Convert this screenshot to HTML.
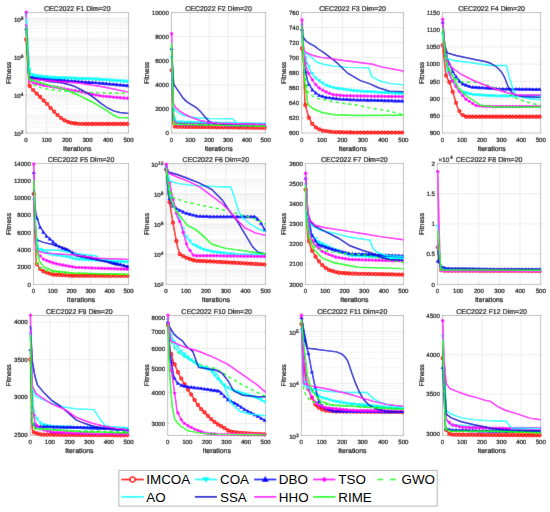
<!DOCTYPE html><html><head><meta charset="utf-8"><style>html,body{margin:0;padding:0;background:#fff;}svg{display:block;text-rendering:geometricPrecision;} .t{stroke:#000;stroke-width:0.22px;}</style></head><body><svg width="550" height="512" viewBox="0 0 550 512" font-family='"Liberation Sans", sans-serif'>
<defs><filter id="bl" x="0" y="0" width="550" height="512" filterUnits="userSpaceOnUse"><feConvolveMatrix order="3" kernelMatrix="0.0072 0.0847 0.0072 0.0847 1 0.0847 0.0072 0.0847 0.0072" edgeMode="duplicate" preserveAlpha="true"/></filter></defs><g filter="url(#bl)">
<rect width="550" height="512" fill="#fff"/>
<path d="M26 127.25H128.5M26 123.89H128.5M26 121.5H128.5M26 119.65H128.5M26 118.14H128.5M26 116.86H128.5M26 115.75H128.5M26 114.78H128.5M26 108.15H128.5M26 104.79H128.5M26 102.41H128.5M26 100.56H128.5M26 99.04H128.5M26 97.76H128.5M26 96.66H128.5M26 95.68H128.5M26 89.06H128.5M26 85.7H128.5M26 83.31H128.5M26 81.46H128.5M26 79.95H128.5M26 78.67H128.5M26 77.56H128.5M26 76.58H128.5M26 69.96H128.5M26 66.6H128.5M26 64.21H128.5M26 62.36H128.5M26 60.85H128.5M26 59.57H128.5M26 58.46H128.5M26 57.49H128.5M26 50.86H128.5M26 47.5H128.5M26 45.12H128.5M26 43.27H128.5M26 41.75H128.5M26 40.47H128.5M26 39.37H128.5M26 38.39H128.5M26 31.77H128.5M26 28.41H128.5M26 26.02H128.5M26 24.17H128.5M26 22.66H128.5M26 21.38H128.5M26 20.27H128.5M26 19.29H128.5" stroke="#efefef" stroke-width="0.6" fill="none"/>
<path d="M46.5 12.5V133M67 12.5V133M87.5 12.5V133M108 12.5V133M26 94.81H128.5M26 56.61H128.5M26 18.42H128.5" stroke="#e3e3e3" stroke-width="0.6" fill="none"/>
<text class="t" x="77.25" y="11.2" font-size="7.0" text-anchor="middle" fill="#000">CEC2022 F1 Dim=20</text>
<path d="M26 133v-1M26 12.5v1M46.5 133v-1M46.5 12.5v1M67 133v-1M67 12.5v1M87.5 133v-1M87.5 12.5v1M108 133v-1M108 12.5v1M128.5 133v-1M128.5 12.5v1M26 133h1M128.5 133h-1M26 94.81h1M128.5 94.81h-1M26 56.61h1M128.5 56.61h-1M26 18.42h1M128.5 18.42h-1" stroke="#a6a6a6" stroke-width="0.6" fill="none"/>
<rect x="26" y="12.5" width="102.5" height="120.5" fill="none" stroke="#a6a6a6" stroke-width="0.7"/>
<text class="t" x="26" y="141.6" font-size="6.1" text-anchor="middle" fill="#000">0</text>
<text class="t" x="46.5" y="141.6" font-size="6.1" text-anchor="middle" fill="#000">100</text>
<text class="t" x="67" y="141.6" font-size="6.1" text-anchor="middle" fill="#000">200</text>
<text class="t" x="87.5" y="141.6" font-size="6.1" text-anchor="middle" fill="#000">300</text>
<text class="t" x="108" y="141.6" font-size="6.1" text-anchor="middle" fill="#000">400</text>
<text class="t" x="128.5" y="141.6" font-size="6.1" text-anchor="middle" fill="#000">500</text>
<text class="t" x="20.82" y="134.2" font-size="5.0" text-anchor="start" fill="#000">2</text>
<text class="t" x="20.72" y="136.1" font-size="6.1" text-anchor="end" fill="#000">10</text>
<text class="t" x="20.82" y="96.01" font-size="5.0" text-anchor="start" fill="#000">4</text>
<text class="t" x="20.72" y="97.91" font-size="6.1" text-anchor="end" fill="#000">10</text>
<text class="t" x="20.82" y="57.81" font-size="5.0" text-anchor="start" fill="#000">6</text>
<text class="t" x="20.72" y="59.71" font-size="6.1" text-anchor="end" fill="#000">10</text>
<text class="t" x="20.82" y="19.62" font-size="5.0" text-anchor="start" fill="#000">8</text>
<text class="t" x="20.72" y="21.52" font-size="6.1" text-anchor="end" fill="#000">10</text>
<text class="t" x="77.25" y="150.5" font-size="6.9" text-anchor="middle" fill="#000">Iterations</text>
<clipPath id="cF1"><rect x="23" y="9.5" width="108.5" height="126.5"/></clipPath>
<g clip-path="url(#cF1)">
<path d="M26.2 39.3 28.2 70 29 84 29.6 85.9 32.75 89.6 36.5 93.4 40.25 97.1 44 100.9 47.75 104.6 50.9 108.4 54.6 112.1 57.75 115.25 61.5 118.4 65.25 120.9 70.25 122.75 76.5 123.75 84 124 128.5 124" stroke="#ff0000" stroke-width="1.45" fill="none"/>
<circle cx="26.2" cy="39.38" r="1.5" stroke="#ff0000" stroke-width="1.3" fill="#fff" fill-opacity="0.3"/>
<circle cx="29.69" cy="86.01" r="1.5" stroke="#ff0000" stroke-width="1.3" fill="#fff" fill-opacity="0.3"/>
<circle cx="33.17" cy="90.03" r="1.5" stroke="#ff0000" stroke-width="1.3" fill="#fff" fill-opacity="0.3"/>
<circle cx="36.66" cy="93.56" r="1.5" stroke="#ff0000" stroke-width="1.3" fill="#fff" fill-opacity="0.3"/>
<circle cx="40.15" cy="97" r="1.5" stroke="#ff0000" stroke-width="1.3" fill="#fff" fill-opacity="0.3"/>
<circle cx="43.63" cy="100.53" r="1.5" stroke="#ff0000" stroke-width="1.3" fill="#fff" fill-opacity="0.3"/>
<circle cx="47.11" cy="103.97" r="1.5" stroke="#ff0000" stroke-width="1.3" fill="#fff" fill-opacity="0.3"/>
<circle cx="50.6" cy="108.04" r="1.5" stroke="#ff0000" stroke-width="1.3" fill="#fff" fill-opacity="0.3"/>
<circle cx="54.09" cy="111.58" r="1.5" stroke="#ff0000" stroke-width="1.3" fill="#fff" fill-opacity="0.3"/>
<circle cx="57.57" cy="115.07" r="1.5" stroke="#ff0000" stroke-width="1.3" fill="#fff" fill-opacity="0.3"/>
<circle cx="61.05" cy="118.03" r="1.5" stroke="#ff0000" stroke-width="1.3" fill="#fff" fill-opacity="0.3"/>
<circle cx="64.54" cy="120.43" r="1.5" stroke="#ff0000" stroke-width="1.3" fill="#fff" fill-opacity="0.3"/>
<circle cx="68.03" cy="121.93" r="1.5" stroke="#ff0000" stroke-width="1.3" fill="#fff" fill-opacity="0.3"/>
<circle cx="71.51" cy="122.95" r="1.5" stroke="#ff0000" stroke-width="1.3" fill="#fff" fill-opacity="0.3"/>
<circle cx="75" cy="123.51" r="1.5" stroke="#ff0000" stroke-width="1.3" fill="#fff" fill-opacity="0.3"/>
<circle cx="78.48" cy="123.82" r="1.5" stroke="#ff0000" stroke-width="1.3" fill="#fff" fill-opacity="0.3"/>
<circle cx="81.97" cy="123.93" r="1.5" stroke="#ff0000" stroke-width="1.3" fill="#fff" fill-opacity="0.3"/>
<circle cx="85.45" cy="124" r="1.5" stroke="#ff0000" stroke-width="1.3" fill="#fff" fill-opacity="0.3"/>
<circle cx="88.94" cy="124" r="1.5" stroke="#ff0000" stroke-width="1.3" fill="#fff" fill-opacity="0.3"/>
<circle cx="92.42" cy="124" r="1.5" stroke="#ff0000" stroke-width="1.3" fill="#fff" fill-opacity="0.3"/>
<circle cx="95.91" cy="124" r="1.5" stroke="#ff0000" stroke-width="1.3" fill="#fff" fill-opacity="0.3"/>
<circle cx="99.39" cy="124" r="1.5" stroke="#ff0000" stroke-width="1.3" fill="#fff" fill-opacity="0.3"/>
<circle cx="102.88" cy="124" r="1.5" stroke="#ff0000" stroke-width="1.3" fill="#fff" fill-opacity="0.3"/>
<circle cx="106.36" cy="124" r="1.5" stroke="#ff0000" stroke-width="1.3" fill="#fff" fill-opacity="0.3"/>
<circle cx="109.84" cy="124" r="1.5" stroke="#ff0000" stroke-width="1.3" fill="#fff" fill-opacity="0.3"/>
<circle cx="113.33" cy="124" r="1.5" stroke="#ff0000" stroke-width="1.3" fill="#fff" fill-opacity="0.3"/>
<circle cx="116.81" cy="124" r="1.5" stroke="#ff0000" stroke-width="1.3" fill="#fff" fill-opacity="0.3"/>
<circle cx="120.3" cy="124" r="1.5" stroke="#ff0000" stroke-width="1.3" fill="#fff" fill-opacity="0.3"/>
<circle cx="123.78" cy="124" r="1.5" stroke="#ff0000" stroke-width="1.3" fill="#fff" fill-opacity="0.3"/>
<circle cx="127.27" cy="124" r="1.5" stroke="#ff0000" stroke-width="1.3" fill="#fff" fill-opacity="0.3"/>
<path d="M26.2 15 28.5 55 29.5 69 30.9 74 34 75.6 49 77.4 76 78.6 101 79.6 128.5 81.6" stroke="#00ffff" stroke-width="1.45" fill="none"/>
<path d="M24.1 13.29h4.2l-2.1 3.7zM27.59 67.88h4.2l-2.1 3.7zM31.07 73.37h4.2l-2.1 3.7zM34.56 74.12h4.2l-2.1 3.7zM38.05 74.54h4.2l-2.1 3.7zM41.53 74.96h4.2l-2.1 3.7zM45.01 75.37h4.2l-2.1 3.7zM48.5 75.67h4.2l-2.1 3.7zM51.98 75.83h4.2l-2.1 3.7zM55.47 75.98h4.2l-2.1 3.7zM58.95 76.14h4.2l-2.1 3.7zM62.44 76.29h4.2l-2.1 3.7zM65.93 76.45h4.2l-2.1 3.7zM69.41 76.6h4.2l-2.1 3.7zM72.9 76.76h4.2l-2.1 3.7zM76.38 76.9h4.2l-2.1 3.7zM79.87 77.04h4.2l-2.1 3.7zM83.35 77.18h4.2l-2.1 3.7zM86.84 77.32h4.2l-2.1 3.7zM90.32 77.46h4.2l-2.1 3.7zM93.81 77.6h4.2l-2.1 3.7zM97.29 77.74h4.2l-2.1 3.7zM100.78 77.94h4.2l-2.1 3.7zM104.26 78.19h4.2l-2.1 3.7zM107.75 78.44h4.2l-2.1 3.7zM111.23 78.7h4.2l-2.1 3.7zM114.72 78.95h4.2l-2.1 3.7zM118.2 79.2h4.2l-2.1 3.7zM121.69 79.46h4.2l-2.1 3.7zM125.17 79.71h4.2l-2.1 3.7z" fill="#00ffff"/>
<path d="M26.2 28.2 28.4 72 29 76.5 36.5 77.8 61.5 80 76 81.2 101 82.9 128.5 85.5" stroke="#0000ff" stroke-width="1.45" fill="none"/>
<path d="M24.1 30.1h4.2l-2.1 -3.7zM27.59 78.42h4.2l-2.1 -3.7zM31.07 79.02h4.2l-2.1 -3.7zM34.56 79.61h4.2l-2.1 -3.7zM38.05 79.92h4.2l-2.1 -3.7zM41.53 80.23h4.2l-2.1 -3.7zM45.01 80.53h4.2l-2.1 -3.7zM48.5 80.84h4.2l-2.1 -3.7zM51.98 81.15h4.2l-2.1 -3.7zM55.47 81.45h4.2l-2.1 -3.7zM58.95 81.76h4.2l-2.1 -3.7zM62.44 82.05h4.2l-2.1 -3.7zM65.93 82.34h4.2l-2.1 -3.7zM69.41 82.63h4.2l-2.1 -3.7zM72.9 82.92h4.2l-2.1 -3.7zM76.38 83.17h4.2l-2.1 -3.7zM79.87 83.41h4.2l-2.1 -3.7zM83.35 83.64h4.2l-2.1 -3.7zM86.84 83.88h4.2l-2.1 -3.7zM90.32 84.12h4.2l-2.1 -3.7zM93.81 84.35h4.2l-2.1 -3.7zM97.29 84.59h4.2l-2.1 -3.7zM100.78 84.88h4.2l-2.1 -3.7zM104.26 85.21h4.2l-2.1 -3.7zM107.75 85.54h4.2l-2.1 -3.7zM111.23 85.87h4.2l-2.1 -3.7zM114.72 86.2h4.2l-2.1 -3.7zM118.2 86.52h4.2l-2.1 -3.7zM121.69 86.85h4.2l-2.1 -3.7zM125.17 87.18h4.2l-2.1 -3.7z" fill="#0000ff"/>
<path d="M26.2 11.9 26.6 26.7 28.6 74 29 80.25 32.75 82.75 42.75 85.25 55.25 87.1 65.25 89 76 90.9 88.5 93.4 101 95.9 113.5 97.1 128.5 98.4" stroke="#ff00ff" stroke-width="1.45" fill="none"/>
<circle cx="26.2" cy="12.08" r="1.7" fill="#ff00ff"/>
<circle cx="29.69" cy="80.71" r="1.7" fill="#ff00ff"/>
<circle cx="33.17" cy="82.86" r="1.7" fill="#ff00ff"/>
<circle cx="36.66" cy="83.73" r="1.7" fill="#ff00ff"/>
<circle cx="40.15" cy="84.6" r="1.7" fill="#ff00ff"/>
<circle cx="43.63" cy="85.38" r="1.7" fill="#ff00ff"/>
<circle cx="47.11" cy="85.9" r="1.7" fill="#ff00ff"/>
<circle cx="50.6" cy="86.41" r="1.7" fill="#ff00ff"/>
<circle cx="54.09" cy="86.93" r="1.7" fill="#ff00ff"/>
<circle cx="57.57" cy="87.54" r="1.7" fill="#ff00ff"/>
<circle cx="61.05" cy="88.2" r="1.7" fill="#ff00ff"/>
<circle cx="64.54" cy="88.87" r="1.7" fill="#ff00ff"/>
<circle cx="68.03" cy="89.49" r="1.7" fill="#ff00ff"/>
<circle cx="71.51" cy="90.11" r="1.7" fill="#ff00ff"/>
<circle cx="75" cy="90.72" r="1.7" fill="#ff00ff"/>
<circle cx="78.48" cy="91.4" r="1.7" fill="#ff00ff"/>
<circle cx="81.97" cy="92.09" r="1.7" fill="#ff00ff"/>
<circle cx="85.45" cy="92.79" r="1.7" fill="#ff00ff"/>
<circle cx="88.94" cy="93.49" r="1.7" fill="#ff00ff"/>
<circle cx="92.42" cy="94.18" r="1.7" fill="#ff00ff"/>
<circle cx="95.91" cy="94.88" r="1.7" fill="#ff00ff"/>
<circle cx="99.39" cy="95.58" r="1.7" fill="#ff00ff"/>
<circle cx="102.88" cy="96.08" r="1.7" fill="#ff00ff"/>
<circle cx="106.36" cy="96.41" r="1.7" fill="#ff00ff"/>
<circle cx="109.84" cy="96.75" r="1.7" fill="#ff00ff"/>
<circle cx="113.33" cy="97.08" r="1.7" fill="#ff00ff"/>
<circle cx="116.81" cy="97.39" r="1.7" fill="#ff00ff"/>
<circle cx="120.3" cy="97.69" r="1.7" fill="#ff00ff"/>
<circle cx="123.78" cy="97.99" r="1.7" fill="#ff00ff"/>
<circle cx="127.27" cy="98.29" r="1.7" fill="#ff00ff"/>
<path d="M26.2 28 29 75 31.5 82.75 36.5 86.5 49 89.6 61.5 90.9 76 92.1 128.5 93.4" stroke="#00ff00" stroke-width="1.45" fill="none" stroke-dasharray="3.2 3.2"/>
<path d="M26.2 18 28.5 57 29.5 70 30.9 74.5 34 76 49 77.7 76 78.9 101 79.9 128.5 82" stroke="#00ffff" stroke-width="1.45" fill="none"/>
<path d="M26.2 25 28.6 74 29 77.75 49 81.5 61.5 82.75 71.5 85.25 76 87.1 82.25 90.25 88.5 94 94.75 98.4 101 103.4 107.25 107.75 113.5 110.9 119.75 112.5 128.5 113.4" stroke="#0000d0" stroke-width="1.45" fill="none"/>
<path d="M26.2 24 28.6 74 29 79 49 80.8 61.5 81.8 76 82.75 88.5 84.6 101 86.5 113.5 89 128.5 92.1" stroke="#ff00ff" stroke-width="1.45" fill="none"/>
<path d="M26.2 27 28.6 74 29 79 36.5 81.5 49 85.25 61.5 88.4 76 94 82.25 97.1 88.5 100.25 94.75 103.4 101 107.1 107.25 110.9 113.5 115.25 118.5 117.5 128.5 117.75" stroke="#00ff00" stroke-width="1.45" fill="none"/>
</g>
<text class="t" transform="translate(11.1 72.8) rotate(-90)" font-size="6.9" text-anchor="middle" fill="#000">Fitness</text>
<path d="M190.26 12.5V133M209.12 12.5V133M227.98 12.5V133M246.84 12.5V133M171.4 108.9H265.7M171.4 84.8H265.7M171.4 60.7H265.7M171.4 36.6H265.7" stroke="#e3e3e3" stroke-width="0.6" fill="none"/>
<text class="t" x="218.55" y="11.2" font-size="7.0" text-anchor="middle" fill="#000">CEC2022 F2 Dim=20</text>
<path d="M171.4 133v-1M171.4 12.5v1M190.26 133v-1M190.26 12.5v1M209.12 133v-1M209.12 12.5v1M227.98 133v-1M227.98 12.5v1M246.84 133v-1M246.84 12.5v1M265.7 133v-1M265.7 12.5v1M171.4 133h1M265.7 133h-1M171.4 108.9h1M265.7 108.9h-1M171.4 84.8h1M265.7 84.8h-1M171.4 60.7h1M265.7 60.7h-1M171.4 36.6h1M265.7 36.6h-1M171.4 12.5h1M265.7 12.5h-1" stroke="#a6a6a6" stroke-width="0.6" fill="none"/>
<rect x="171.4" y="12.5" width="94.3" height="120.5" fill="none" stroke="#a6a6a6" stroke-width="0.7"/>
<text class="t" x="171.4" y="141.6" font-size="6.1" text-anchor="middle" fill="#000">0</text>
<text class="t" x="190.26" y="141.6" font-size="6.1" text-anchor="middle" fill="#000">100</text>
<text class="t" x="209.12" y="141.6" font-size="6.1" text-anchor="middle" fill="#000">200</text>
<text class="t" x="227.98" y="141.6" font-size="6.1" text-anchor="middle" fill="#000">300</text>
<text class="t" x="246.84" y="141.6" font-size="6.1" text-anchor="middle" fill="#000">400</text>
<text class="t" x="265.7" y="141.6" font-size="6.1" text-anchor="middle" fill="#000">500</text>
<text class="t" x="168.8" y="135.2" font-size="6.1" text-anchor="end" fill="#000">0</text>
<text class="t" x="168.8" y="111.1" font-size="6.1" text-anchor="end" fill="#000">2000</text>
<text class="t" x="168.8" y="87" font-size="6.1" text-anchor="end" fill="#000">4000</text>
<text class="t" x="168.8" y="62.9" font-size="6.1" text-anchor="end" fill="#000">6000</text>
<text class="t" x="168.8" y="38.8" font-size="6.1" text-anchor="end" fill="#000">8000</text>
<text class="t" x="168.8" y="14.7" font-size="6.1" text-anchor="end" fill="#000">10000</text>
<text class="t" x="218.55" y="150.5" font-size="6.9" text-anchor="middle" fill="#000">Iterations</text>
<clipPath id="cF2"><rect x="168.4" y="9.5" width="100.3" height="126.5"/></clipPath>
<g clip-path="url(#cF2)">
<path d="M171.6 70.3 173.1 124.2 175 126.8 265.6 127.8" stroke="#ff0000" stroke-width="1.45" fill="none"/>
<circle cx="171.59" cy="70.3" r="1.5" stroke="#ff0000" stroke-width="1.3" fill="#fff" fill-opacity="0.3"/>
<circle cx="174.79" cy="126.52" r="1.5" stroke="#ff0000" stroke-width="1.3" fill="#fff" fill-opacity="0.3"/>
<circle cx="178" cy="126.83" r="1.5" stroke="#ff0000" stroke-width="1.3" fill="#fff" fill-opacity="0.3"/>
<circle cx="181.21" cy="126.87" r="1.5" stroke="#ff0000" stroke-width="1.3" fill="#fff" fill-opacity="0.3"/>
<circle cx="184.41" cy="126.9" r="1.5" stroke="#ff0000" stroke-width="1.3" fill="#fff" fill-opacity="0.3"/>
<circle cx="187.62" cy="126.94" r="1.5" stroke="#ff0000" stroke-width="1.3" fill="#fff" fill-opacity="0.3"/>
<circle cx="190.83" cy="126.97" r="1.5" stroke="#ff0000" stroke-width="1.3" fill="#fff" fill-opacity="0.3"/>
<circle cx="194.03" cy="127.01" r="1.5" stroke="#ff0000" stroke-width="1.3" fill="#fff" fill-opacity="0.3"/>
<circle cx="197.24" cy="127.05" r="1.5" stroke="#ff0000" stroke-width="1.3" fill="#fff" fill-opacity="0.3"/>
<circle cx="200.44" cy="127.08" r="1.5" stroke="#ff0000" stroke-width="1.3" fill="#fff" fill-opacity="0.3"/>
<circle cx="203.65" cy="127.12" r="1.5" stroke="#ff0000" stroke-width="1.3" fill="#fff" fill-opacity="0.3"/>
<circle cx="206.86" cy="127.15" r="1.5" stroke="#ff0000" stroke-width="1.3" fill="#fff" fill-opacity="0.3"/>
<circle cx="210.06" cy="127.19" r="1.5" stroke="#ff0000" stroke-width="1.3" fill="#fff" fill-opacity="0.3"/>
<circle cx="213.27" cy="127.22" r="1.5" stroke="#ff0000" stroke-width="1.3" fill="#fff" fill-opacity="0.3"/>
<circle cx="216.48" cy="127.26" r="1.5" stroke="#ff0000" stroke-width="1.3" fill="#fff" fill-opacity="0.3"/>
<circle cx="219.68" cy="127.29" r="1.5" stroke="#ff0000" stroke-width="1.3" fill="#fff" fill-opacity="0.3"/>
<circle cx="222.89" cy="127.33" r="1.5" stroke="#ff0000" stroke-width="1.3" fill="#fff" fill-opacity="0.3"/>
<circle cx="226.09" cy="127.36" r="1.5" stroke="#ff0000" stroke-width="1.3" fill="#fff" fill-opacity="0.3"/>
<circle cx="229.3" cy="127.4" r="1.5" stroke="#ff0000" stroke-width="1.3" fill="#fff" fill-opacity="0.3"/>
<circle cx="232.51" cy="127.43" r="1.5" stroke="#ff0000" stroke-width="1.3" fill="#fff" fill-opacity="0.3"/>
<circle cx="235.71" cy="127.47" r="1.5" stroke="#ff0000" stroke-width="1.3" fill="#fff" fill-opacity="0.3"/>
<circle cx="238.92" cy="127.51" r="1.5" stroke="#ff0000" stroke-width="1.3" fill="#fff" fill-opacity="0.3"/>
<circle cx="242.12" cy="127.54" r="1.5" stroke="#ff0000" stroke-width="1.3" fill="#fff" fill-opacity="0.3"/>
<circle cx="245.33" cy="127.58" r="1.5" stroke="#ff0000" stroke-width="1.3" fill="#fff" fill-opacity="0.3"/>
<circle cx="248.54" cy="127.61" r="1.5" stroke="#ff0000" stroke-width="1.3" fill="#fff" fill-opacity="0.3"/>
<circle cx="251.74" cy="127.65" r="1.5" stroke="#ff0000" stroke-width="1.3" fill="#fff" fill-opacity="0.3"/>
<circle cx="254.95" cy="127.68" r="1.5" stroke="#ff0000" stroke-width="1.3" fill="#fff" fill-opacity="0.3"/>
<circle cx="258.16" cy="127.72" r="1.5" stroke="#ff0000" stroke-width="1.3" fill="#fff" fill-opacity="0.3"/>
<circle cx="261.36" cy="127.75" r="1.5" stroke="#ff0000" stroke-width="1.3" fill="#fff" fill-opacity="0.3"/>
<circle cx="264.57" cy="127.79" r="1.5" stroke="#ff0000" stroke-width="1.3" fill="#fff" fill-opacity="0.3"/>
<path d="M171.6 58 173.1 113.2 175 119.7 177.6 122.3 222 123.5 265.6 124.5" stroke="#00ffff" stroke-width="1.45" fill="none"/>
<path d="M169.49 56.2h4.2l-2.1 3.7zM172.69 117.2h4.2l-2.1 3.7zM175.9 120.51h4.2l-2.1 3.7zM179.11 120.6h4.2l-2.1 3.7zM182.31 120.68h4.2l-2.1 3.7zM185.52 120.77h4.2l-2.1 3.7zM188.73 120.86h4.2l-2.1 3.7zM191.93 120.94h4.2l-2.1 3.7zM195.14 121.03h4.2l-2.1 3.7zM198.34 121.12h4.2l-2.1 3.7zM201.55 121.2h4.2l-2.1 3.7zM204.76 121.29h4.2l-2.1 3.7zM207.96 121.38h4.2l-2.1 3.7zM211.17 121.46h4.2l-2.1 3.7zM214.38 121.55h4.2l-2.1 3.7zM217.58 121.64h4.2l-2.1 3.7zM220.79 121.72h4.2l-2.1 3.7zM223.99 121.79h4.2l-2.1 3.7zM227.2 121.87h4.2l-2.1 3.7zM230.41 121.94h4.2l-2.1 3.7zM233.61 122.01h4.2l-2.1 3.7zM236.82 122.09h4.2l-2.1 3.7zM240.03 122.16h4.2l-2.1 3.7zM243.23 122.24h4.2l-2.1 3.7zM246.44 122.31h4.2l-2.1 3.7zM249.64 122.38h4.2l-2.1 3.7zM252.85 122.46h4.2l-2.1 3.7zM256.06 122.53h4.2l-2.1 3.7zM259.26 122.6h4.2l-2.1 3.7zM262.47 122.68h4.2l-2.1 3.7z" fill="#00ffff"/>
<path d="M171.6 48.1 173.1 120.3 176.3 123.5 265.6 125" stroke="#0000ff" stroke-width="1.45" fill="none"/>
<path d="M169.49 49.9h4.2l-2.1 -3.7zM172.69 123.79h4.2l-2.1 -3.7zM175.9 125.33h4.2l-2.1 -3.7zM179.11 125.38h4.2l-2.1 -3.7zM182.31 125.44h4.2l-2.1 -3.7zM185.52 125.49h4.2l-2.1 -3.7zM188.73 125.54h4.2l-2.1 -3.7zM191.93 125.6h4.2l-2.1 -3.7zM195.14 125.65h4.2l-2.1 -3.7zM198.34 125.71h4.2l-2.1 -3.7zM201.55 125.76h4.2l-2.1 -3.7zM204.76 125.81h4.2l-2.1 -3.7zM207.96 125.87h4.2l-2.1 -3.7zM211.17 125.92h4.2l-2.1 -3.7zM214.38 125.97h4.2l-2.1 -3.7zM217.58 126.03h4.2l-2.1 -3.7zM220.79 126.08h4.2l-2.1 -3.7zM223.99 126.14h4.2l-2.1 -3.7zM227.2 126.19h4.2l-2.1 -3.7zM230.41 126.24h4.2l-2.1 -3.7zM233.61 126.3h4.2l-2.1 -3.7zM236.82 126.35h4.2l-2.1 -3.7zM240.03 126.41h4.2l-2.1 -3.7zM243.23 126.46h4.2l-2.1 -3.7zM246.44 126.51h4.2l-2.1 -3.7zM249.64 126.57h4.2l-2.1 -3.7zM252.85 126.62h4.2l-2.1 -3.7zM256.06 126.67h4.2l-2.1 -3.7zM259.26 126.73h4.2l-2.1 -3.7zM262.47 126.78h4.2l-2.1 -3.7z" fill="#0000ff"/>
<path d="M171.6 33.7 173.7 121.6 177.6 124.2 265.6 125.8" stroke="#ff00ff" stroke-width="1.45" fill="none"/>
<circle cx="171.59" cy="33.7" r="1.7" fill="#ff00ff"/>
<circle cx="174.79" cy="122.33" r="1.7" fill="#ff00ff"/>
<circle cx="178" cy="124.21" r="1.7" fill="#ff00ff"/>
<circle cx="181.21" cy="124.27" r="1.7" fill="#ff00ff"/>
<circle cx="184.41" cy="124.32" r="1.7" fill="#ff00ff"/>
<circle cx="187.62" cy="124.38" r="1.7" fill="#ff00ff"/>
<circle cx="190.83" cy="124.44" r="1.7" fill="#ff00ff"/>
<circle cx="194.03" cy="124.5" r="1.7" fill="#ff00ff"/>
<circle cx="197.24" cy="124.56" r="1.7" fill="#ff00ff"/>
<circle cx="200.44" cy="124.62" r="1.7" fill="#ff00ff"/>
<circle cx="203.65" cy="124.67" r="1.7" fill="#ff00ff"/>
<circle cx="206.86" cy="124.73" r="1.7" fill="#ff00ff"/>
<circle cx="210.06" cy="124.79" r="1.7" fill="#ff00ff"/>
<circle cx="213.27" cy="124.85" r="1.7" fill="#ff00ff"/>
<circle cx="216.48" cy="124.91" r="1.7" fill="#ff00ff"/>
<circle cx="219.68" cy="124.97" r="1.7" fill="#ff00ff"/>
<circle cx="222.89" cy="125.02" r="1.7" fill="#ff00ff"/>
<circle cx="226.09" cy="125.08" r="1.7" fill="#ff00ff"/>
<circle cx="229.3" cy="125.14" r="1.7" fill="#ff00ff"/>
<circle cx="232.51" cy="125.2" r="1.7" fill="#ff00ff"/>
<circle cx="235.71" cy="125.26" r="1.7" fill="#ff00ff"/>
<circle cx="238.92" cy="125.31" r="1.7" fill="#ff00ff"/>
<circle cx="242.12" cy="125.37" r="1.7" fill="#ff00ff"/>
<circle cx="245.33" cy="125.43" r="1.7" fill="#ff00ff"/>
<circle cx="248.54" cy="125.49" r="1.7" fill="#ff00ff"/>
<circle cx="251.74" cy="125.55" r="1.7" fill="#ff00ff"/>
<circle cx="254.95" cy="125.61" r="1.7" fill="#ff00ff"/>
<circle cx="258.16" cy="125.66" r="1.7" fill="#ff00ff"/>
<circle cx="261.36" cy="125.72" r="1.7" fill="#ff00ff"/>
<circle cx="264.57" cy="125.78" r="1.7" fill="#ff00ff"/>
<path d="M171.6 45 174 124 265.6 126" stroke="#00ff00" stroke-width="1.45" fill="none" stroke-dasharray="3.2 3.2"/>
<path d="M171.6 60 173.1 107.4 176.3 111.3 181.5 114.5 189.2 116.7 198.3 118 211.2 118.6 232.3 118.9 235.4 121.5 238.4 123.7 241.5 124.7 265.6 125" stroke="#00ffff" stroke-width="1.45" fill="none"/>
<path d="M171.6 50 173.7 84.2 176.3 88.1 178.9 91.9 182.8 97.7 186.6 101.6 191.8 104.8 197 108.1 200.8 111.9 204.7 116.5 208.6 121 212.5 122.9 222 124.2 265.6 125" stroke="#0000d0" stroke-width="1.45" fill="none"/>
<path d="M171.6 55 173.1 102.3 175 106.8 178.9 110.6 185.4 114.5 191.8 117.7 199.5 120.3 207.3 121.9 217.6 123.2 265.6 124.5" stroke="#ff00ff" stroke-width="1.45" fill="none"/>
<path d="M171.6 42.8 173.7 124.2 265.6 126.3" stroke="#00ff00" stroke-width="1.45" fill="none"/>
</g>
<text class="t" transform="translate(149 72.8) rotate(-90)" font-size="6.9" text-anchor="middle" fill="#000">Fitness</text>
<path d="M322.08 12.5V133M342.41 12.5V133M362.74 12.5V133M383.07 12.5V133M301.75 117.94H403.4M301.75 102.88H403.4M301.75 87.81H403.4M301.75 72.75H403.4M301.75 57.69H403.4M301.75 42.62H403.4M301.75 27.56H403.4" stroke="#e3e3e3" stroke-width="0.6" fill="none"/>
<text class="t" x="352.57" y="11.2" font-size="7.0" text-anchor="middle" fill="#000">CEC2022 F3 Dim=20</text>
<path d="M301.75 133v-1M301.75 12.5v1M322.08 133v-1M322.08 12.5v1M342.41 133v-1M342.41 12.5v1M362.74 133v-1M362.74 12.5v1M383.07 133v-1M383.07 12.5v1M403.4 133v-1M403.4 12.5v1M301.75 133h1M403.4 133h-1M301.75 117.94h1M403.4 117.94h-1M301.75 102.88h1M403.4 102.88h-1M301.75 87.81h1M403.4 87.81h-1M301.75 72.75h1M403.4 72.75h-1M301.75 57.69h1M403.4 57.69h-1M301.75 42.62h1M403.4 42.62h-1M301.75 27.56h1M403.4 27.56h-1M301.75 12.5h1M403.4 12.5h-1" stroke="#a6a6a6" stroke-width="0.6" fill="none"/>
<rect x="301.75" y="12.5" width="101.65" height="120.5" fill="none" stroke="#a6a6a6" stroke-width="0.7"/>
<text class="t" x="301.75" y="141.6" font-size="6.1" text-anchor="middle" fill="#000">0</text>
<text class="t" x="322.08" y="141.6" font-size="6.1" text-anchor="middle" fill="#000">100</text>
<text class="t" x="342.41" y="141.6" font-size="6.1" text-anchor="middle" fill="#000">200</text>
<text class="t" x="362.74" y="141.6" font-size="6.1" text-anchor="middle" fill="#000">300</text>
<text class="t" x="383.07" y="141.6" font-size="6.1" text-anchor="middle" fill="#000">400</text>
<text class="t" x="403.4" y="141.6" font-size="6.1" text-anchor="middle" fill="#000">500</text>
<text class="t" x="299.15" y="135.2" font-size="6.1" text-anchor="end" fill="#000">600</text>
<text class="t" x="299.15" y="120.14" font-size="6.1" text-anchor="end" fill="#000">620</text>
<text class="t" x="299.15" y="105.08" font-size="6.1" text-anchor="end" fill="#000">640</text>
<text class="t" x="299.15" y="90.01" font-size="6.1" text-anchor="end" fill="#000">660</text>
<text class="t" x="299.15" y="74.95" font-size="6.1" text-anchor="end" fill="#000">680</text>
<text class="t" x="299.15" y="59.89" font-size="6.1" text-anchor="end" fill="#000">700</text>
<text class="t" x="299.15" y="44.83" font-size="6.1" text-anchor="end" fill="#000">720</text>
<text class="t" x="299.15" y="29.76" font-size="6.1" text-anchor="end" fill="#000">740</text>
<text class="t" x="299.15" y="14.7" font-size="6.1" text-anchor="end" fill="#000">760</text>
<text class="t" x="352.57" y="150.5" font-size="6.9" text-anchor="middle" fill="#000">Iterations</text>
<clipPath id="cF3"><rect x="298.75" y="9.5" width="107.65" height="126.5"/></clipPath>
<g clip-path="url(#cF3)">
<path d="M301.9 48 303.4 60 304.9 103.1 308.6 117.2 312.3 123.9 316.8 128.4 322.7 130.6 333.1 132.1 356 132.6 403.4 132.6" stroke="#ff0000" stroke-width="1.45" fill="none"/>
<circle cx="301.95" cy="48.43" r="1.5" stroke="#ff0000" stroke-width="1.3" fill="#fff" fill-opacity="0.3"/>
<circle cx="305.41" cy="105.04" r="1.5" stroke="#ff0000" stroke-width="1.3" fill="#fff" fill-opacity="0.3"/>
<circle cx="308.87" cy="117.68" r="1.5" stroke="#ff0000" stroke-width="1.3" fill="#fff" fill-opacity="0.3"/>
<circle cx="312.32" cy="123.92" r="1.5" stroke="#ff0000" stroke-width="1.3" fill="#fff" fill-opacity="0.3"/>
<circle cx="315.78" cy="127.38" r="1.5" stroke="#ff0000" stroke-width="1.3" fill="#fff" fill-opacity="0.3"/>
<circle cx="319.23" cy="129.31" r="1.5" stroke="#ff0000" stroke-width="1.3" fill="#fff" fill-opacity="0.3"/>
<circle cx="322.69" cy="130.6" r="1.5" stroke="#ff0000" stroke-width="1.3" fill="#fff" fill-opacity="0.3"/>
<circle cx="326.15" cy="131.1" r="1.5" stroke="#ff0000" stroke-width="1.3" fill="#fff" fill-opacity="0.3"/>
<circle cx="329.6" cy="131.6" r="1.5" stroke="#ff0000" stroke-width="1.3" fill="#fff" fill-opacity="0.3"/>
<circle cx="333.06" cy="132.09" r="1.5" stroke="#ff0000" stroke-width="1.3" fill="#fff" fill-opacity="0.3"/>
<circle cx="336.51" cy="132.17" r="1.5" stroke="#ff0000" stroke-width="1.3" fill="#fff" fill-opacity="0.3"/>
<circle cx="339.97" cy="132.25" r="1.5" stroke="#ff0000" stroke-width="1.3" fill="#fff" fill-opacity="0.3"/>
<circle cx="343.43" cy="132.33" r="1.5" stroke="#ff0000" stroke-width="1.3" fill="#fff" fill-opacity="0.3"/>
<circle cx="346.88" cy="132.4" r="1.5" stroke="#ff0000" stroke-width="1.3" fill="#fff" fill-opacity="0.3"/>
<circle cx="350.34" cy="132.48" r="1.5" stroke="#ff0000" stroke-width="1.3" fill="#fff" fill-opacity="0.3"/>
<circle cx="353.79" cy="132.55" r="1.5" stroke="#ff0000" stroke-width="1.3" fill="#fff" fill-opacity="0.3"/>
<circle cx="357.25" cy="132.6" r="1.5" stroke="#ff0000" stroke-width="1.3" fill="#fff" fill-opacity="0.3"/>
<circle cx="360.71" cy="132.6" r="1.5" stroke="#ff0000" stroke-width="1.3" fill="#fff" fill-opacity="0.3"/>
<circle cx="364.16" cy="132.6" r="1.5" stroke="#ff0000" stroke-width="1.3" fill="#fff" fill-opacity="0.3"/>
<circle cx="367.62" cy="132.6" r="1.5" stroke="#ff0000" stroke-width="1.3" fill="#fff" fill-opacity="0.3"/>
<circle cx="371.08" cy="132.6" r="1.5" stroke="#ff0000" stroke-width="1.3" fill="#fff" fill-opacity="0.3"/>
<circle cx="374.53" cy="132.6" r="1.5" stroke="#ff0000" stroke-width="1.3" fill="#fff" fill-opacity="0.3"/>
<circle cx="377.99" cy="132.6" r="1.5" stroke="#ff0000" stroke-width="1.3" fill="#fff" fill-opacity="0.3"/>
<circle cx="381.44" cy="132.6" r="1.5" stroke="#ff0000" stroke-width="1.3" fill="#fff" fill-opacity="0.3"/>
<circle cx="384.9" cy="132.6" r="1.5" stroke="#ff0000" stroke-width="1.3" fill="#fff" fill-opacity="0.3"/>
<circle cx="388.36" cy="132.6" r="1.5" stroke="#ff0000" stroke-width="1.3" fill="#fff" fill-opacity="0.3"/>
<circle cx="391.81" cy="132.6" r="1.5" stroke="#ff0000" stroke-width="1.3" fill="#fff" fill-opacity="0.3"/>
<circle cx="395.27" cy="132.6" r="1.5" stroke="#ff0000" stroke-width="1.3" fill="#fff" fill-opacity="0.3"/>
<circle cx="398.72" cy="132.6" r="1.5" stroke="#ff0000" stroke-width="1.3" fill="#fff" fill-opacity="0.3"/>
<circle cx="402.18" cy="132.6" r="1.5" stroke="#ff0000" stroke-width="1.3" fill="#fff" fill-opacity="0.3"/>
<path d="M301.9 24.9 303.5 48 305.4 58 307.9 64.5 310.9 72 315.3 77.8 319.8 81.5 325.7 85.3 334.6 88.2 345 89.7 356 91.2 403.4 94" stroke="#00ffff" stroke-width="1.45" fill="none"/>
<path d="M299.85 23.87h4.2l-2.1 3.7zM303.31 56.22h4.2l-2.1 3.7zM306.77 65.11h4.2l-2.1 3.7zM310.22 72.07h4.2l-2.1 3.7zM313.68 76.39h4.2l-2.1 3.7zM317.13 79.23h4.2l-2.1 3.7zM320.59 81.56h4.2l-2.1 3.7zM324.05 83.65h4.2l-2.1 3.7zM327.5 84.77h4.2l-2.1 3.7zM330.96 85.9h4.2l-2.1 3.7zM334.41 86.68h4.2l-2.1 3.7zM337.87 87.17h4.2l-2.1 3.7zM341.33 87.67h4.2l-2.1 3.7zM344.78 88.16h4.2l-2.1 3.7zM348.24 88.63h4.2l-2.1 3.7zM351.69 89.1h4.2l-2.1 3.7zM355.15 89.47h4.2l-2.1 3.7zM358.61 89.68h4.2l-2.1 3.7zM362.06 89.88h4.2l-2.1 3.7zM365.52 90.09h4.2l-2.1 3.7zM368.98 90.29h4.2l-2.1 3.7zM372.43 90.49h4.2l-2.1 3.7zM375.89 90.7h4.2l-2.1 3.7zM379.34 90.9h4.2l-2.1 3.7zM382.8 91.11h4.2l-2.1 3.7zM386.26 91.31h4.2l-2.1 3.7zM389.71 91.52h4.2l-2.1 3.7zM393.17 91.72h4.2l-2.1 3.7zM396.62 91.92h4.2l-2.1 3.7zM400.08 92.13h4.2l-2.1 3.7z" fill="#00ffff"/>
<path d="M301.9 28 303.2 50 304.9 68.9 307.9 82.3 312.3 89.7 318.3 94.9 325.7 97.1 340.6 98.9 356 99.6 403.4 100.8" stroke="#0000ff" stroke-width="1.45" fill="none"/>
<path d="M299.85 30.7h4.2l-2.1 -3.7zM303.31 72.98h4.2l-2.1 -3.7zM306.77 85.72h4.2l-2.1 -3.7zM310.22 91.52h4.2l-2.1 -3.7zM313.68 94.51h4.2l-2.1 -3.7zM317.13 96.98h4.2l-2.1 -3.7zM320.59 98.01h4.2l-2.1 -3.7zM324.05 98.95h4.2l-2.1 -3.7zM327.5 99.37h4.2l-2.1 -3.7zM330.96 99.79h4.2l-2.1 -3.7zM334.41 100.21h4.2l-2.1 -3.7zM337.87 100.62h4.2l-2.1 -3.7zM341.33 100.83h4.2l-2.1 -3.7zM344.78 100.99h4.2l-2.1 -3.7zM348.24 101.14h4.2l-2.1 -3.7zM351.69 101.3h4.2l-2.1 -3.7zM355.15 101.43h4.2l-2.1 -3.7zM358.61 101.52h4.2l-2.1 -3.7zM362.06 101.61h4.2l-2.1 -3.7zM365.52 101.69h4.2l-2.1 -3.7zM368.98 101.78h4.2l-2.1 -3.7zM372.43 101.87h4.2l-2.1 -3.7zM375.89 101.96h4.2l-2.1 -3.7zM379.34 102.04h4.2l-2.1 -3.7zM382.8 102.13h4.2l-2.1 -3.7zM386.26 102.22h4.2l-2.1 -3.7zM389.71 102.31h4.2l-2.1 -3.7zM393.17 102.39h4.2l-2.1 -3.7zM396.62 102.48h4.2l-2.1 -3.7zM400.08 102.57h4.2l-2.1 -3.7z" fill="#0000ff"/>
<path d="M301.9 19 303.5 45 305.7 66 309.4 74.9 313.8 82.3 318.3 87.5 325.7 91.9 334.6 94.9 345 95.7 403.4 96.7" stroke="#ff00ff" stroke-width="1.45" fill="none"/>
<circle cx="301.95" cy="19.87" r="1.7" fill="#ff00ff"/>
<circle cx="305.41" cy="63.23" r="1.7" fill="#ff00ff"/>
<circle cx="308.87" cy="73.61" r="1.7" fill="#ff00ff"/>
<circle cx="312.32" cy="79.81" r="1.7" fill="#ff00ff"/>
<circle cx="315.78" cy="84.59" r="1.7" fill="#ff00ff"/>
<circle cx="319.23" cy="88.06" r="1.7" fill="#ff00ff"/>
<circle cx="322.69" cy="90.11" r="1.7" fill="#ff00ff"/>
<circle cx="326.15" cy="92.05" r="1.7" fill="#ff00ff"/>
<circle cx="329.6" cy="93.22" r="1.7" fill="#ff00ff"/>
<circle cx="333.06" cy="94.38" r="1.7" fill="#ff00ff"/>
<circle cx="336.51" cy="95.05" r="1.7" fill="#ff00ff"/>
<circle cx="339.97" cy="95.31" r="1.7" fill="#ff00ff"/>
<circle cx="343.43" cy="95.58" r="1.7" fill="#ff00ff"/>
<circle cx="346.88" cy="95.73" r="1.7" fill="#ff00ff"/>
<circle cx="350.34" cy="95.79" r="1.7" fill="#ff00ff"/>
<circle cx="353.79" cy="95.85" r="1.7" fill="#ff00ff"/>
<circle cx="357.25" cy="95.91" r="1.7" fill="#ff00ff"/>
<circle cx="360.71" cy="95.97" r="1.7" fill="#ff00ff"/>
<circle cx="364.16" cy="96.03" r="1.7" fill="#ff00ff"/>
<circle cx="367.62" cy="96.09" r="1.7" fill="#ff00ff"/>
<circle cx="371.08" cy="96.15" r="1.7" fill="#ff00ff"/>
<circle cx="374.53" cy="96.21" r="1.7" fill="#ff00ff"/>
<circle cx="377.99" cy="96.26" r="1.7" fill="#ff00ff"/>
<circle cx="381.44" cy="96.32" r="1.7" fill="#ff00ff"/>
<circle cx="384.9" cy="96.38" r="1.7" fill="#ff00ff"/>
<circle cx="388.36" cy="96.44" r="1.7" fill="#ff00ff"/>
<circle cx="391.81" cy="96.5" r="1.7" fill="#ff00ff"/>
<circle cx="395.27" cy="96.56" r="1.7" fill="#ff00ff"/>
<circle cx="398.72" cy="96.62" r="1.7" fill="#ff00ff"/>
<circle cx="402.18" cy="96.68" r="1.7" fill="#ff00ff"/>
<path d="M301.9 27 304 70 307.9 92.7 315.3 97.9 325.7 100.1 340.6 103.1 356 105 368.7 107.6 389.4 111.2 403.4 114.5" stroke="#00ff00" stroke-width="1.45" fill="none" stroke-dasharray="3.2 3.2"/>
<path d="M301.9 24 303.5 51.75 307.25 54.25 312.25 58 317.25 62.4 323.5 64.25 333.5 66.1 348 67.4 368.7 67.9 371.8 76.6 379.1 80.7 389.4 83.4 403.4 84.9" stroke="#00ffff" stroke-width="1.45" fill="none"/>
<path d="M301.9 25 302.9 36.75 305.4 40.5 309.75 43.6 314.75 46.1 318.5 49.25 323.5 52.4 328.5 56.1 333.5 59.9 338.5 64.25 343.5 69.25 348 73.5 360.4 80.7 368.7 83.4 379.1 88 389.4 91.1 403.4 91.7" stroke="#0000d0" stroke-width="1.45" fill="none"/>
<path d="M301.9 22 302.9 49.25 306 52.4 312.25 55.25 321 57.4 331 58.6 343.5 60.5 348 61 372.8 64.2 381.1 66.9 403.4 71" stroke="#ff00ff" stroke-width="1.45" fill="none"/>
<path d="M301.9 26 303.5 60 304.9 82.3 307.9 104.6 313.8 109 322.7 112.7 334.6 114.7 356 115.5 403.4 115.3" stroke="#00ff00" stroke-width="1.45" fill="none"/>
</g>
<text class="t" transform="translate(286.1 72.8) rotate(-90)" font-size="6.9" text-anchor="middle" fill="#000">Fitness</text>
<path d="M462.15 12.5V133M481.8 12.5V133M501.45 12.5V133M521.1 12.5V133M442.5 115.79H540.75M442.5 98.57H540.75M442.5 81.36H540.75M442.5 64.14H540.75M442.5 46.93H540.75M442.5 29.71H540.75" stroke="#e3e3e3" stroke-width="0.6" fill="none"/>
<text class="t" x="491.62" y="11.2" font-size="7.0" text-anchor="middle" fill="#000">CEC2022 F4 Dim=20</text>
<path d="M442.5 133v-1M442.5 12.5v1M462.15 133v-1M462.15 12.5v1M481.8 133v-1M481.8 12.5v1M501.45 133v-1M501.45 12.5v1M521.1 133v-1M521.1 12.5v1M540.75 133v-1M540.75 12.5v1M442.5 133h1M540.75 133h-1M442.5 115.79h1M540.75 115.79h-1M442.5 98.57h1M540.75 98.57h-1M442.5 81.36h1M540.75 81.36h-1M442.5 64.14h1M540.75 64.14h-1M442.5 46.93h1M540.75 46.93h-1M442.5 29.71h1M540.75 29.71h-1M442.5 12.5h1M540.75 12.5h-1" stroke="#a6a6a6" stroke-width="0.6" fill="none"/>
<rect x="442.5" y="12.5" width="98.25" height="120.5" fill="none" stroke="#a6a6a6" stroke-width="0.7"/>
<text class="t" x="442.5" y="141.6" font-size="6.1" text-anchor="middle" fill="#000">0</text>
<text class="t" x="462.15" y="141.6" font-size="6.1" text-anchor="middle" fill="#000">100</text>
<text class="t" x="481.8" y="141.6" font-size="6.1" text-anchor="middle" fill="#000">200</text>
<text class="t" x="501.45" y="141.6" font-size="6.1" text-anchor="middle" fill="#000">300</text>
<text class="t" x="521.1" y="141.6" font-size="6.1" text-anchor="middle" fill="#000">400</text>
<text class="t" x="540.75" y="141.6" font-size="6.1" text-anchor="middle" fill="#000">500</text>
<text class="t" x="439.9" y="135.2" font-size="6.1" text-anchor="end" fill="#000">800</text>
<text class="t" x="439.9" y="117.99" font-size="6.1" text-anchor="end" fill="#000">850</text>
<text class="t" x="439.9" y="100.77" font-size="6.1" text-anchor="end" fill="#000">900</text>
<text class="t" x="439.9" y="83.56" font-size="6.1" text-anchor="end" fill="#000">950</text>
<text class="t" x="439.9" y="66.34" font-size="6.1" text-anchor="end" fill="#000">1000</text>
<text class="t" x="439.9" y="49.13" font-size="6.1" text-anchor="end" fill="#000">1050</text>
<text class="t" x="439.9" y="31.91" font-size="6.1" text-anchor="end" fill="#000">1100</text>
<text class="t" x="439.9" y="14.7" font-size="6.1" text-anchor="end" fill="#000">1150</text>
<text class="t" x="491.62" y="150.5" font-size="6.9" text-anchor="middle" fill="#000">Iterations</text>
<clipPath id="cF4"><rect x="439.5" y="9.5" width="104.25" height="126.5"/></clipPath>
<g clip-path="url(#cF4)">
<path d="M442.7 45.5 446 75.5 449.75 83 453.5 94.25 457.25 106.75 461 114.25 466 116.75 540.75 116.75" stroke="#ff0000" stroke-width="1.45" fill="none"/>
<circle cx="442.7" cy="45.5" r="1.5" stroke="#ff0000" stroke-width="1.3" fill="#fff" fill-opacity="0.3"/>
<circle cx="446.04" cy="75.57" r="1.5" stroke="#ff0000" stroke-width="1.3" fill="#fff" fill-opacity="0.3"/>
<circle cx="449.38" cy="82.25" r="1.5" stroke="#ff0000" stroke-width="1.3" fill="#fff" fill-opacity="0.3"/>
<circle cx="452.72" cy="91.9" r="1.5" stroke="#ff0000" stroke-width="1.3" fill="#fff" fill-opacity="0.3"/>
<circle cx="456.06" cy="102.78" r="1.5" stroke="#ff0000" stroke-width="1.3" fill="#fff" fill-opacity="0.3"/>
<circle cx="459.4" cy="111.05" r="1.5" stroke="#ff0000" stroke-width="1.3" fill="#fff" fill-opacity="0.3"/>
<circle cx="462.74" cy="115.12" r="1.5" stroke="#ff0000" stroke-width="1.3" fill="#fff" fill-opacity="0.3"/>
<circle cx="466.08" cy="116.75" r="1.5" stroke="#ff0000" stroke-width="1.3" fill="#fff" fill-opacity="0.3"/>
<circle cx="469.42" cy="116.75" r="1.5" stroke="#ff0000" stroke-width="1.3" fill="#fff" fill-opacity="0.3"/>
<circle cx="472.76" cy="116.75" r="1.5" stroke="#ff0000" stroke-width="1.3" fill="#fff" fill-opacity="0.3"/>
<circle cx="476.1" cy="116.75" r="1.5" stroke="#ff0000" stroke-width="1.3" fill="#fff" fill-opacity="0.3"/>
<circle cx="479.44" cy="116.75" r="1.5" stroke="#ff0000" stroke-width="1.3" fill="#fff" fill-opacity="0.3"/>
<circle cx="482.78" cy="116.75" r="1.5" stroke="#ff0000" stroke-width="1.3" fill="#fff" fill-opacity="0.3"/>
<circle cx="486.12" cy="116.75" r="1.5" stroke="#ff0000" stroke-width="1.3" fill="#fff" fill-opacity="0.3"/>
<circle cx="489.46" cy="116.75" r="1.5" stroke="#ff0000" stroke-width="1.3" fill="#fff" fill-opacity="0.3"/>
<circle cx="492.8" cy="116.75" r="1.5" stroke="#ff0000" stroke-width="1.3" fill="#fff" fill-opacity="0.3"/>
<circle cx="496.14" cy="116.75" r="1.5" stroke="#ff0000" stroke-width="1.3" fill="#fff" fill-opacity="0.3"/>
<circle cx="499.49" cy="116.75" r="1.5" stroke="#ff0000" stroke-width="1.3" fill="#fff" fill-opacity="0.3"/>
<circle cx="502.83" cy="116.75" r="1.5" stroke="#ff0000" stroke-width="1.3" fill="#fff" fill-opacity="0.3"/>
<circle cx="506.17" cy="116.75" r="1.5" stroke="#ff0000" stroke-width="1.3" fill="#fff" fill-opacity="0.3"/>
<circle cx="509.51" cy="116.75" r="1.5" stroke="#ff0000" stroke-width="1.3" fill="#fff" fill-opacity="0.3"/>
<circle cx="512.85" cy="116.75" r="1.5" stroke="#ff0000" stroke-width="1.3" fill="#fff" fill-opacity="0.3"/>
<circle cx="516.19" cy="116.75" r="1.5" stroke="#ff0000" stroke-width="1.3" fill="#fff" fill-opacity="0.3"/>
<circle cx="519.53" cy="116.75" r="1.5" stroke="#ff0000" stroke-width="1.3" fill="#fff" fill-opacity="0.3"/>
<circle cx="522.87" cy="116.75" r="1.5" stroke="#ff0000" stroke-width="1.3" fill="#fff" fill-opacity="0.3"/>
<circle cx="526.21" cy="116.75" r="1.5" stroke="#ff0000" stroke-width="1.3" fill="#fff" fill-opacity="0.3"/>
<circle cx="529.55" cy="116.75" r="1.5" stroke="#ff0000" stroke-width="1.3" fill="#fff" fill-opacity="0.3"/>
<circle cx="532.89" cy="116.75" r="1.5" stroke="#ff0000" stroke-width="1.3" fill="#fff" fill-opacity="0.3"/>
<circle cx="536.23" cy="116.75" r="1.5" stroke="#ff0000" stroke-width="1.3" fill="#fff" fill-opacity="0.3"/>
<circle cx="539.57" cy="116.75" r="1.5" stroke="#ff0000" stroke-width="1.3" fill="#fff" fill-opacity="0.3"/>
<path d="M442.7 34.25 447.25 70.5 453.5 83 461 91.75 473.5 95 496 96.3 540.75 96.6" stroke="#00ffff" stroke-width="1.45" fill="none"/>
<path d="M440.6 32.45h4.2l-2.1 3.7zM443.94 59.04h4.2l-2.1 3.7zM447.28 72.95h4.2l-2.1 3.7zM450.62 79.64h4.2l-2.1 3.7zM453.96 84.18h4.2l-2.1 3.7zM457.3 88.08h4.2l-2.1 3.7zM460.64 90.4h4.2l-2.1 3.7zM463.98 91.27h4.2l-2.1 3.7zM467.32 92.14h4.2l-2.1 3.7zM470.66 93.01h4.2l-2.1 3.7zM474 93.35h4.2l-2.1 3.7zM477.34 93.54h4.2l-2.1 3.7zM480.68 93.74h4.2l-2.1 3.7zM484.02 93.93h4.2l-2.1 3.7zM487.36 94.12h4.2l-2.1 3.7zM490.7 94.32h4.2l-2.1 3.7zM494.04 94.5h4.2l-2.1 3.7zM497.38 94.52h4.2l-2.1 3.7zM500.73 94.55h4.2l-2.1 3.7zM504.07 94.57h4.2l-2.1 3.7zM507.41 94.59h4.2l-2.1 3.7zM510.75 94.61h4.2l-2.1 3.7zM514.09 94.64h4.2l-2.1 3.7zM517.43 94.66h4.2l-2.1 3.7zM520.77 94.68h4.2l-2.1 3.7zM524.11 94.7h4.2l-2.1 3.7zM527.45 94.72h4.2l-2.1 3.7zM530.79 94.75h4.2l-2.1 3.7zM534.13 94.77h4.2l-2.1 3.7zM537.47 94.79h4.2l-2.1 3.7z" fill="#00ffff"/>
<path d="M442.7 21.75 444.75 50.5 448.5 61.75 453.5 73 461 83 471 86.75 496 88.5 540.75 89.2" stroke="#0000ff" stroke-width="1.45" fill="none"/>
<path d="M440.6 23.55h4.2l-2.1 -3.7zM443.94 56.16h4.2l-2.1 -3.7zM447.28 65.52h4.2l-2.1 -3.7zM450.62 73.04h4.2l-2.1 -3.7zM453.96 78.21h4.2l-2.1 -3.7zM457.3 82.67h4.2l-2.1 -3.7zM460.64 85.45h4.2l-2.1 -3.7zM463.98 86.7h4.2l-2.1 -3.7zM467.32 87.96h4.2l-2.1 -3.7zM470.66 88.67h4.2l-2.1 -3.7zM474 88.91h4.2l-2.1 -3.7zM477.34 89.14h4.2l-2.1 -3.7zM480.68 89.37h4.2l-2.1 -3.7zM484.02 89.61h4.2l-2.1 -3.7zM487.36 89.84h4.2l-2.1 -3.7zM490.7 90.08h4.2l-2.1 -3.7zM494.04 90.3h4.2l-2.1 -3.7zM497.38 90.35h4.2l-2.1 -3.7zM500.73 90.41h4.2l-2.1 -3.7zM504.07 90.46h4.2l-2.1 -3.7zM507.41 90.51h4.2l-2.1 -3.7zM510.75 90.56h4.2l-2.1 -3.7zM514.09 90.62h4.2l-2.1 -3.7zM517.43 90.67h4.2l-2.1 -3.7zM520.77 90.72h4.2l-2.1 -3.7zM524.11 90.77h4.2l-2.1 -3.7zM527.45 90.82h4.2l-2.1 -3.7zM530.79 90.88h4.2l-2.1 -3.7zM534.13 90.93h4.2l-2.1 -3.7zM537.47 90.98h4.2l-2.1 -3.7z" fill="#0000ff"/>
<path d="M442.7 19.25 446 60 451 78 458.5 90.5 466 99.25 476 105.5 486 106.5 540.75 106.6" stroke="#ff00ff" stroke-width="1.45" fill="none"/>
<circle cx="442.7" cy="19.25" r="1.7" fill="#ff00ff"/>
<circle cx="446.04" cy="60.13" r="1.7" fill="#ff00ff"/>
<circle cx="449.38" cy="72.16" r="1.7" fill="#ff00ff"/>
<circle cx="452.72" cy="80.86" r="1.7" fill="#ff00ff"/>
<circle cx="456.06" cy="86.43" r="1.7" fill="#ff00ff"/>
<circle cx="459.4" cy="91.55" r="1.7" fill="#ff00ff"/>
<circle cx="462.74" cy="95.45" r="1.7" fill="#ff00ff"/>
<circle cx="466.08" cy="99.3" r="1.7" fill="#ff00ff"/>
<circle cx="469.42" cy="101.39" r="1.7" fill="#ff00ff"/>
<circle cx="472.76" cy="103.48" r="1.7" fill="#ff00ff"/>
<circle cx="476.1" cy="105.51" r="1.7" fill="#ff00ff"/>
<circle cx="479.44" cy="105.84" r="1.7" fill="#ff00ff"/>
<circle cx="482.78" cy="106.18" r="1.7" fill="#ff00ff"/>
<circle cx="486.12" cy="106.5" r="1.7" fill="#ff00ff"/>
<circle cx="489.46" cy="106.51" r="1.7" fill="#ff00ff"/>
<circle cx="492.8" cy="106.51" r="1.7" fill="#ff00ff"/>
<circle cx="496.14" cy="106.52" r="1.7" fill="#ff00ff"/>
<circle cx="499.49" cy="106.52" r="1.7" fill="#ff00ff"/>
<circle cx="502.83" cy="106.53" r="1.7" fill="#ff00ff"/>
<circle cx="506.17" cy="106.54" r="1.7" fill="#ff00ff"/>
<circle cx="509.51" cy="106.54" r="1.7" fill="#ff00ff"/>
<circle cx="512.85" cy="106.55" r="1.7" fill="#ff00ff"/>
<circle cx="516.19" cy="106.56" r="1.7" fill="#ff00ff"/>
<circle cx="519.53" cy="106.56" r="1.7" fill="#ff00ff"/>
<circle cx="522.87" cy="106.57" r="1.7" fill="#ff00ff"/>
<circle cx="526.21" cy="106.57" r="1.7" fill="#ff00ff"/>
<circle cx="529.55" cy="106.58" r="1.7" fill="#ff00ff"/>
<circle cx="532.89" cy="106.59" r="1.7" fill="#ff00ff"/>
<circle cx="536.23" cy="106.59" r="1.7" fill="#ff00ff"/>
<circle cx="539.57" cy="106.6" r="1.7" fill="#ff00ff"/>
<path d="M442.7 30 448.5 70.5 456 79.25 461 81.75 476 82.5 490 86 506.4 92.5 514.6 97.4 522.8 100.7 531 103.1 540.75 105.6" stroke="#00ff00" stroke-width="1.45" fill="none" stroke-dasharray="3.2 3.2"/>
<path d="M442.7 32 446 58 453.5 60.5 473.5 63 490 65.4 506.4 65.4 508.9 76 513 89.2 516.2 95.7 531 99 540.75 99.8" stroke="#00ffff" stroke-width="1.45" fill="none"/>
<path d="M442.7 25 444.75 45.5 447.25 53 456 55.5 473.5 59.25 486 61.75 490 63 496.6 67 501.5 72 504.75 77.7 507.2 84.3 509.7 90 514.6 94.9 522.8 96.6 540.75 97.4" stroke="#0000d0" stroke-width="1.45" fill="none"/>
<path d="M442.7 24 446 60.5 451 66.75 461 74.25 473.5 80.5 486 85.5 496 89.25 506.4 92.5 517.9 94.9 540.75 94.9" stroke="#ff00ff" stroke-width="1.45" fill="none"/>
<path d="M442.7 28 446 61.75 451 73 458.5 88 466 95.5 473.5 100.5 481 105.5 496 107 540.75 107.2" stroke="#00ff00" stroke-width="1.45" fill="none"/>
</g>
<text class="t" transform="translate(424.1 72.8) rotate(-90)" font-size="6.9" text-anchor="middle" fill="#000">Fitness</text>
<path d="M52.5 163.5V284.3M71.5 163.5V284.3M90.5 163.5V284.3M109.5 163.5V284.3M33.5 267.04H128.5M33.5 249.79H128.5M33.5 232.53H128.5M33.5 215.27H128.5M33.5 198.01H128.5M33.5 180.76H128.5" stroke="#e3e3e3" stroke-width="0.6" fill="none"/>
<text class="t" x="81" y="162.2" font-size="7.0" text-anchor="middle" fill="#000">CEC2022 F5 Dim=20</text>
<path d="M33.5 284.3v-1M33.5 163.5v1M52.5 284.3v-1M52.5 163.5v1M71.5 284.3v-1M71.5 163.5v1M90.5 284.3v-1M90.5 163.5v1M109.5 284.3v-1M109.5 163.5v1M128.5 284.3v-1M128.5 163.5v1M33.5 284.3h1M128.5 284.3h-1M33.5 267.04h1M128.5 267.04h-1M33.5 249.79h1M128.5 249.79h-1M33.5 232.53h1M128.5 232.53h-1M33.5 215.27h1M128.5 215.27h-1M33.5 198.01h1M128.5 198.01h-1M33.5 180.76h1M128.5 180.76h-1M33.5 163.5h1M128.5 163.5h-1" stroke="#a6a6a6" stroke-width="0.6" fill="none"/>
<rect x="33.5" y="163.5" width="95" height="120.8" fill="none" stroke="#a6a6a6" stroke-width="0.7"/>
<text class="t" x="33.5" y="292.9" font-size="6.1" text-anchor="middle" fill="#000">0</text>
<text class="t" x="52.5" y="292.9" font-size="6.1" text-anchor="middle" fill="#000">100</text>
<text class="t" x="71.5" y="292.9" font-size="6.1" text-anchor="middle" fill="#000">200</text>
<text class="t" x="90.5" y="292.9" font-size="6.1" text-anchor="middle" fill="#000">300</text>
<text class="t" x="109.5" y="292.9" font-size="6.1" text-anchor="middle" fill="#000">400</text>
<text class="t" x="128.5" y="292.9" font-size="6.1" text-anchor="middle" fill="#000">500</text>
<text class="t" x="30.9" y="286.5" font-size="6.1" text-anchor="end" fill="#000">0</text>
<text class="t" x="30.9" y="269.24" font-size="6.1" text-anchor="end" fill="#000">2000</text>
<text class="t" x="30.9" y="251.99" font-size="6.1" text-anchor="end" fill="#000">4000</text>
<text class="t" x="30.9" y="234.73" font-size="6.1" text-anchor="end" fill="#000">6000</text>
<text class="t" x="30.9" y="217.47" font-size="6.1" text-anchor="end" fill="#000">8000</text>
<text class="t" x="30.9" y="200.21" font-size="6.1" text-anchor="end" fill="#000">10000</text>
<text class="t" x="30.9" y="182.96" font-size="6.1" text-anchor="end" fill="#000">12000</text>
<text class="t" x="30.9" y="165.7" font-size="6.1" text-anchor="end" fill="#000">14000</text>
<text class="t" x="81" y="301.8" font-size="6.9" text-anchor="middle" fill="#000">Iterations</text>
<clipPath id="cF5"><rect x="30.5" y="160.5" width="101" height="126.8"/></clipPath>
<g clip-path="url(#cF5)">
<path d="M33.7 194 35.9 258.1 36.6 263.6 39.5 268.6 43.9 271.6 52.7 274.5 73.2 275.8 128.5 275.8" stroke="#ff0000" stroke-width="1.45" fill="none"/>
<circle cx="33.69" cy="194" r="1.5" stroke="#ff0000" stroke-width="1.3" fill="#fff" fill-opacity="0.3"/>
<circle cx="36.92" cy="264.15" r="1.5" stroke="#ff0000" stroke-width="1.3" fill="#fff" fill-opacity="0.3"/>
<circle cx="40.15" cy="269.04" r="1.5" stroke="#ff0000" stroke-width="1.3" fill="#fff" fill-opacity="0.3"/>
<circle cx="43.38" cy="271.25" r="1.5" stroke="#ff0000" stroke-width="1.3" fill="#fff" fill-opacity="0.3"/>
<circle cx="46.61" cy="272.49" r="1.5" stroke="#ff0000" stroke-width="1.3" fill="#fff" fill-opacity="0.3"/>
<circle cx="49.84" cy="273.56" r="1.5" stroke="#ff0000" stroke-width="1.3" fill="#fff" fill-opacity="0.3"/>
<circle cx="53.07" cy="274.52" r="1.5" stroke="#ff0000" stroke-width="1.3" fill="#fff" fill-opacity="0.3"/>
<circle cx="56.3" cy="274.73" r="1.5" stroke="#ff0000" stroke-width="1.3" fill="#fff" fill-opacity="0.3"/>
<circle cx="59.53" cy="274.93" r="1.5" stroke="#ff0000" stroke-width="1.3" fill="#fff" fill-opacity="0.3"/>
<circle cx="62.76" cy="275.14" r="1.5" stroke="#ff0000" stroke-width="1.3" fill="#fff" fill-opacity="0.3"/>
<circle cx="65.99" cy="275.34" r="1.5" stroke="#ff0000" stroke-width="1.3" fill="#fff" fill-opacity="0.3"/>
<circle cx="69.22" cy="275.55" r="1.5" stroke="#ff0000" stroke-width="1.3" fill="#fff" fill-opacity="0.3"/>
<circle cx="72.45" cy="275.75" r="1.5" stroke="#ff0000" stroke-width="1.3" fill="#fff" fill-opacity="0.3"/>
<circle cx="75.68" cy="275.8" r="1.5" stroke="#ff0000" stroke-width="1.3" fill="#fff" fill-opacity="0.3"/>
<circle cx="78.91" cy="275.8" r="1.5" stroke="#ff0000" stroke-width="1.3" fill="#fff" fill-opacity="0.3"/>
<circle cx="82.14" cy="275.8" r="1.5" stroke="#ff0000" stroke-width="1.3" fill="#fff" fill-opacity="0.3"/>
<circle cx="85.37" cy="275.8" r="1.5" stroke="#ff0000" stroke-width="1.3" fill="#fff" fill-opacity="0.3"/>
<circle cx="88.6" cy="275.8" r="1.5" stroke="#ff0000" stroke-width="1.3" fill="#fff" fill-opacity="0.3"/>
<circle cx="91.83" cy="275.8" r="1.5" stroke="#ff0000" stroke-width="1.3" fill="#fff" fill-opacity="0.3"/>
<circle cx="95.06" cy="275.8" r="1.5" stroke="#ff0000" stroke-width="1.3" fill="#fff" fill-opacity="0.3"/>
<circle cx="98.29" cy="275.8" r="1.5" stroke="#ff0000" stroke-width="1.3" fill="#fff" fill-opacity="0.3"/>
<circle cx="101.52" cy="275.8" r="1.5" stroke="#ff0000" stroke-width="1.3" fill="#fff" fill-opacity="0.3"/>
<circle cx="104.75" cy="275.8" r="1.5" stroke="#ff0000" stroke-width="1.3" fill="#fff" fill-opacity="0.3"/>
<circle cx="107.98" cy="275.8" r="1.5" stroke="#ff0000" stroke-width="1.3" fill="#fff" fill-opacity="0.3"/>
<circle cx="111.21" cy="275.8" r="1.5" stroke="#ff0000" stroke-width="1.3" fill="#fff" fill-opacity="0.3"/>
<circle cx="114.44" cy="275.8" r="1.5" stroke="#ff0000" stroke-width="1.3" fill="#fff" fill-opacity="0.3"/>
<circle cx="117.67" cy="275.8" r="1.5" stroke="#ff0000" stroke-width="1.3" fill="#fff" fill-opacity="0.3"/>
<circle cx="120.9" cy="275.8" r="1.5" stroke="#ff0000" stroke-width="1.3" fill="#fff" fill-opacity="0.3"/>
<circle cx="124.13" cy="275.8" r="1.5" stroke="#ff0000" stroke-width="1.3" fill="#fff" fill-opacity="0.3"/>
<circle cx="127.36" cy="275.8" r="1.5" stroke="#ff0000" stroke-width="1.3" fill="#fff" fill-opacity="0.3"/>
<path d="M33.7 200 35.9 234.5 38.5 248.9 48.9 254.2 67.3 256.8 76 259.4 128.5 262.3" stroke="#00ffff" stroke-width="1.45" fill="none"/>
<path d="M31.59 198.2h4.2l-2.1 3.7zM34.82 238.35h4.2l-2.1 3.7zM38.05 247.94h4.2l-2.1 3.7zM41.28 249.59h4.2l-2.1 3.7zM44.51 251.23h4.2l-2.1 3.7zM47.74 252.53h4.2l-2.1 3.7zM50.97 252.99h4.2l-2.1 3.7zM54.2 253.45h4.2l-2.1 3.7zM57.43 253.9h4.2l-2.1 3.7zM60.66 254.36h4.2l-2.1 3.7zM63.89 254.81h4.2l-2.1 3.7zM67.12 255.57h4.2l-2.1 3.7zM70.35 256.54h4.2l-2.1 3.7zM73.58 257.5h4.2l-2.1 3.7zM76.81 257.76h4.2l-2.1 3.7zM80.04 257.94h4.2l-2.1 3.7zM83.27 258.12h4.2l-2.1 3.7zM86.5 258.3h4.2l-2.1 3.7zM89.73 258.47h4.2l-2.1 3.7zM92.96 258.65h4.2l-2.1 3.7zM96.19 258.83h4.2l-2.1 3.7zM99.42 259.01h4.2l-2.1 3.7zM102.65 259.19h4.2l-2.1 3.7zM105.88 259.37h4.2l-2.1 3.7zM109.11 259.54h4.2l-2.1 3.7zM112.34 259.72h4.2l-2.1 3.7zM115.57 259.9h4.2l-2.1 3.7zM118.8 260.08h4.2l-2.1 3.7zM122.03 260.26h4.2l-2.1 3.7zM125.26 260.44h4.2l-2.1 3.7z" fill="#00ffff"/>
<path d="M33.7 172.2 34.6 200 35.6 212 36.8 217.5 38 220.5 39.7 226.2 43.2 231.6 46.8 236.3 49.7 238.5 56.7 245.1 64 248.5 76.2 254 87.9 256.9 102.5 259.8 113.6 262.5 128.5 266.6" stroke="#0000ff" stroke-width="1.45" fill="none"/>
<path d="M31.59 174h4.2l-2.1 -3.7zM34.82 219.6h4.2l-2.1 -3.7zM38.05 228.69h4.2l-2.1 -3.7zM41.28 233.63h4.2l-2.1 -3.7zM44.51 237.85h4.2l-2.1 -3.7zM47.74 240.43h4.2l-2.1 -3.7zM50.97 243.48h4.2l-2.1 -3.7zM54.2 246.52h4.2l-2.1 -3.7zM57.43 248.22h4.2l-2.1 -3.7zM60.66 249.72h4.2l-2.1 -3.7zM63.89 251.2h4.2l-2.1 -3.7zM67.12 252.65h4.2l-2.1 -3.7zM70.35 254.11h4.2l-2.1 -3.7zM73.58 255.57h4.2l-2.1 -3.7zM76.81 256.47h4.2l-2.1 -3.7zM80.04 257.27h4.2l-2.1 -3.7zM83.27 258.07h4.2l-2.1 -3.7zM86.5 258.84h4.2l-2.1 -3.7zM89.73 259.48h4.2l-2.1 -3.7zM92.96 260.12h4.2l-2.1 -3.7zM96.19 260.76h4.2l-2.1 -3.7zM99.42 261.41h4.2l-2.1 -3.7zM102.65 262.15h4.2l-2.1 -3.7zM105.88 262.93h4.2l-2.1 -3.7zM109.11 263.72h4.2l-2.1 -3.7zM112.34 264.53h4.2l-2.1 -3.7zM115.57 265.42h4.2l-2.1 -3.7zM118.8 266.31h4.2l-2.1 -3.7zM122.03 267.2h4.2l-2.1 -3.7zM125.26 268.09h4.2l-2.1 -3.7z" fill="#0000ff"/>
<path d="M33.7 163.9 35.9 242.4 38.5 254.2 43.7 259.4 54.2 263.3 67.3 265.9 76 267.4 128.5 269.3" stroke="#ff00ff" stroke-width="1.45" fill="none"/>
<circle cx="33.69" cy="163.9" r="1.7" fill="#ff00ff"/>
<circle cx="36.92" cy="247.03" r="1.7" fill="#ff00ff"/>
<circle cx="40.15" cy="255.85" r="1.7" fill="#ff00ff"/>
<circle cx="43.38" cy="259.08" r="1.7" fill="#ff00ff"/>
<circle cx="46.61" cy="260.48" r="1.7" fill="#ff00ff"/>
<circle cx="49.84" cy="261.68" r="1.7" fill="#ff00ff"/>
<circle cx="53.07" cy="262.88" r="1.7" fill="#ff00ff"/>
<circle cx="56.3" cy="263.72" r="1.7" fill="#ff00ff"/>
<circle cx="59.53" cy="264.36" r="1.7" fill="#ff00ff"/>
<circle cx="62.76" cy="265" r="1.7" fill="#ff00ff"/>
<circle cx="65.99" cy="265.64" r="1.7" fill="#ff00ff"/>
<circle cx="69.22" cy="266.23" r="1.7" fill="#ff00ff"/>
<circle cx="72.45" cy="266.79" r="1.7" fill="#ff00ff"/>
<circle cx="75.68" cy="267.34" r="1.7" fill="#ff00ff"/>
<circle cx="78.91" cy="267.51" r="1.7" fill="#ff00ff"/>
<circle cx="82.14" cy="267.62" r="1.7" fill="#ff00ff"/>
<circle cx="85.37" cy="267.74" r="1.7" fill="#ff00ff"/>
<circle cx="88.6" cy="267.86" r="1.7" fill="#ff00ff"/>
<circle cx="91.83" cy="267.97" r="1.7" fill="#ff00ff"/>
<circle cx="95.06" cy="268.09" r="1.7" fill="#ff00ff"/>
<circle cx="98.29" cy="268.21" r="1.7" fill="#ff00ff"/>
<circle cx="101.52" cy="268.32" r="1.7" fill="#ff00ff"/>
<circle cx="104.75" cy="268.44" r="1.7" fill="#ff00ff"/>
<circle cx="107.98" cy="268.56" r="1.7" fill="#ff00ff"/>
<circle cx="111.21" cy="268.67" r="1.7" fill="#ff00ff"/>
<circle cx="114.44" cy="268.79" r="1.7" fill="#ff00ff"/>
<circle cx="117.67" cy="268.91" r="1.7" fill="#ff00ff"/>
<circle cx="120.9" cy="269.02" r="1.7" fill="#ff00ff"/>
<circle cx="124.13" cy="269.14" r="1.7" fill="#ff00ff"/>
<circle cx="127.36" cy="269.26" r="1.7" fill="#ff00ff"/>
<path d="M33.7 185 36.5 262 40 268 50 272 76 273.5 128.5 274.2" stroke="#00ff00" stroke-width="1.45" fill="none" stroke-dasharray="3.2 3.2"/>
<path d="M33.7 216.6 35 225 36.8 241.6 38.6 248.6 43.7 249.5 59.4 250.5 76 253.6 96.3 255.8 98.4 258.7 112.2 260.9 128.5 262.3" stroke="#00ffff" stroke-width="1.45" fill="none"/>
<path d="M33.7 190 35.9 239.8 43.7 242.4 54.2 245 67.3 248.9 76 255.8 90 258.5 105 261.5 114 264.5 128.5 265.9" stroke="#0000d0" stroke-width="1.45" fill="none"/>
<path d="M33.7 195 35.9 250.2 43.7 252.9 76 255.1 97.7 258.3 128.5 259.4" stroke="#ff00ff" stroke-width="1.45" fill="none"/>
<path d="M33.7 180 36.6 246.7 39.5 261.3 43.9 267.2 52.7 270.7 73.2 273 128.5 274.5" stroke="#00ff00" stroke-width="1.45" fill="none"/>
</g>
<text class="t" transform="translate(11.1 224) rotate(-90)" font-size="6.9" text-anchor="middle" fill="#000">Fitness</text>
<path d="M166 279.75H265.6M166 277.1H265.6M166 275.21H265.6M166 273.75H265.6M166 272.55H265.6M166 271.54H265.6M166 270.66H265.6M166 269.89H265.6M166 264.65H265.6M166 262H265.6M166 260.11H265.6M166 258.65H265.6M166 257.45H265.6M166 256.44H265.6M166 255.56H265.6M166 254.79H265.6M166 249.55H265.6M166 246.9H265.6M166 245.01H265.6M166 243.55H265.6M166 242.35H265.6M166 241.34H265.6M166 240.46H265.6M166 239.69H265.6M166 234.45H265.6M166 231.8H265.6M166 229.91H265.6M166 228.45H265.6M166 227.25H265.6M166 226.24H265.6M166 225.36H265.6M166 224.59H265.6M166 219.35H265.6M166 216.7H265.6M166 214.81H265.6M166 213.35H265.6M166 212.15H265.6M166 211.14H265.6M166 210.26H265.6M166 209.49H265.6M166 204.25H265.6M166 201.6H265.6M166 199.71H265.6M166 198.25H265.6M166 197.05H265.6M166 196.04H265.6M166 195.16H265.6M166 194.39H265.6M166 189.15H265.6M166 186.5H265.6M166 184.61H265.6M166 183.15H265.6M166 181.95H265.6M166 180.94H265.6M166 180.06H265.6M166 179.29H265.6M166 174.05H265.6M166 171.4H265.6M166 169.51H265.6M166 168.05H265.6M166 166.85H265.6M166 165.84H265.6M166 164.96H265.6M166 164.19H265.6" stroke="#efefef" stroke-width="0.6" fill="none"/>
<path d="M185.92 163.5V284.3M205.84 163.5V284.3M225.76 163.5V284.3M245.68 163.5V284.3M166 254.1H265.6M166 223.9H265.6M166 193.7H265.6" stroke="#e3e3e3" stroke-width="0.6" fill="none"/>
<text class="t" x="215.8" y="162.2" font-size="7.0" text-anchor="middle" fill="#000">CEC2022 F6 Dim=20</text>
<path d="M166 284.3v-1M166 163.5v1M185.92 284.3v-1M185.92 163.5v1M205.84 284.3v-1M205.84 163.5v1M225.76 284.3v-1M225.76 163.5v1M245.68 284.3v-1M245.68 163.5v1M265.6 284.3v-1M265.6 163.5v1M166 284.3h1M265.6 284.3h-1M166 254.1h1M265.6 254.1h-1M166 223.9h1M265.6 223.9h-1M166 193.7h1M265.6 193.7h-1M166 163.5h1M265.6 163.5h-1" stroke="#a6a6a6" stroke-width="0.6" fill="none"/>
<rect x="166" y="163.5" width="99.6" height="120.8" fill="none" stroke="#a6a6a6" stroke-width="0.7"/>
<text class="t" x="166" y="292.9" font-size="6.1" text-anchor="middle" fill="#000">0</text>
<text class="t" x="185.92" y="292.9" font-size="6.1" text-anchor="middle" fill="#000">100</text>
<text class="t" x="205.84" y="292.9" font-size="6.1" text-anchor="middle" fill="#000">200</text>
<text class="t" x="225.76" y="292.9" font-size="6.1" text-anchor="middle" fill="#000">300</text>
<text class="t" x="245.68" y="292.9" font-size="6.1" text-anchor="middle" fill="#000">400</text>
<text class="t" x="265.6" y="292.9" font-size="6.1" text-anchor="middle" fill="#000">500</text>
<text class="t" x="160.82" y="285.5" font-size="5.0" text-anchor="start" fill="#000">2</text>
<text class="t" x="160.72" y="287.4" font-size="6.1" text-anchor="end" fill="#000">10</text>
<text class="t" x="160.82" y="255.3" font-size="5.0" text-anchor="start" fill="#000">4</text>
<text class="t" x="160.72" y="257.2" font-size="6.1" text-anchor="end" fill="#000">10</text>
<text class="t" x="160.82" y="225.1" font-size="5.0" text-anchor="start" fill="#000">6</text>
<text class="t" x="160.72" y="227" font-size="6.1" text-anchor="end" fill="#000">10</text>
<text class="t" x="160.82" y="194.9" font-size="5.0" text-anchor="start" fill="#000">8</text>
<text class="t" x="160.72" y="196.8" font-size="6.1" text-anchor="end" fill="#000">10</text>
<text class="t" x="158.04" y="164.7" font-size="5.0" text-anchor="start" fill="#000">10</text>
<text class="t" x="157.94" y="166.6" font-size="6.1" text-anchor="end" fill="#000">10</text>
<text class="t" x="215.8" y="301.8" font-size="6.9" text-anchor="middle" fill="#000">Iterations</text>
<clipPath id="cF6"><rect x="163" y="160.5" width="105.6" height="126.8"/></clipPath>
<g clip-path="url(#cF6)">
<path d="M166.2 169.4 169.6 202.4 173.4 225.3 177.2 245.6 179.8 254.4 187.4 258.3 195 260.8 212 261.5 265.6 264.6" stroke="#ff0000" stroke-width="1.45" fill="none"/>
<circle cx="166.2" cy="169.4" r="1.5" stroke="#ff0000" stroke-width="1.3" fill="#fff" fill-opacity="0.3"/>
<circle cx="169.59" cy="202.26" r="1.5" stroke="#ff0000" stroke-width="1.3" fill="#fff" fill-opacity="0.3"/>
<circle cx="172.97" cy="222.72" r="1.5" stroke="#ff0000" stroke-width="1.3" fill="#fff" fill-opacity="0.3"/>
<circle cx="176.36" cy="241.1" r="1.5" stroke="#ff0000" stroke-width="1.3" fill="#fff" fill-opacity="0.3"/>
<circle cx="179.74" cy="254.21" r="1.5" stroke="#ff0000" stroke-width="1.3" fill="#fff" fill-opacity="0.3"/>
<circle cx="183.13" cy="256.11" r="1.5" stroke="#ff0000" stroke-width="1.3" fill="#fff" fill-opacity="0.3"/>
<circle cx="186.52" cy="257.85" r="1.5" stroke="#ff0000" stroke-width="1.3" fill="#fff" fill-opacity="0.3"/>
<circle cx="189.9" cy="259.12" r="1.5" stroke="#ff0000" stroke-width="1.3" fill="#fff" fill-opacity="0.3"/>
<circle cx="193.29" cy="260.24" r="1.5" stroke="#ff0000" stroke-width="1.3" fill="#fff" fill-opacity="0.3"/>
<circle cx="196.68" cy="260.87" r="1.5" stroke="#ff0000" stroke-width="1.3" fill="#fff" fill-opacity="0.3"/>
<circle cx="200.06" cy="261.01" r="1.5" stroke="#ff0000" stroke-width="1.3" fill="#fff" fill-opacity="0.3"/>
<circle cx="203.45" cy="261.15" r="1.5" stroke="#ff0000" stroke-width="1.3" fill="#fff" fill-opacity="0.3"/>
<circle cx="206.84" cy="261.29" r="1.5" stroke="#ff0000" stroke-width="1.3" fill="#fff" fill-opacity="0.3"/>
<circle cx="210.22" cy="261.43" r="1.5" stroke="#ff0000" stroke-width="1.3" fill="#fff" fill-opacity="0.3"/>
<circle cx="213.61" cy="261.59" r="1.5" stroke="#ff0000" stroke-width="1.3" fill="#fff" fill-opacity="0.3"/>
<circle cx="217" cy="261.79" r="1.5" stroke="#ff0000" stroke-width="1.3" fill="#fff" fill-opacity="0.3"/>
<circle cx="220.38" cy="261.98" r="1.5" stroke="#ff0000" stroke-width="1.3" fill="#fff" fill-opacity="0.3"/>
<circle cx="223.77" cy="262.18" r="1.5" stroke="#ff0000" stroke-width="1.3" fill="#fff" fill-opacity="0.3"/>
<circle cx="227.15" cy="262.38" r="1.5" stroke="#ff0000" stroke-width="1.3" fill="#fff" fill-opacity="0.3"/>
<circle cx="230.54" cy="262.57" r="1.5" stroke="#ff0000" stroke-width="1.3" fill="#fff" fill-opacity="0.3"/>
<circle cx="233.93" cy="262.77" r="1.5" stroke="#ff0000" stroke-width="1.3" fill="#fff" fill-opacity="0.3"/>
<circle cx="237.31" cy="262.96" r="1.5" stroke="#ff0000" stroke-width="1.3" fill="#fff" fill-opacity="0.3"/>
<circle cx="240.7" cy="263.16" r="1.5" stroke="#ff0000" stroke-width="1.3" fill="#fff" fill-opacity="0.3"/>
<circle cx="244.09" cy="263.36" r="1.5" stroke="#ff0000" stroke-width="1.3" fill="#fff" fill-opacity="0.3"/>
<circle cx="247.47" cy="263.55" r="1.5" stroke="#ff0000" stroke-width="1.3" fill="#fff" fill-opacity="0.3"/>
<circle cx="250.86" cy="263.75" r="1.5" stroke="#ff0000" stroke-width="1.3" fill="#fff" fill-opacity="0.3"/>
<circle cx="254.25" cy="263.94" r="1.5" stroke="#ff0000" stroke-width="1.3" fill="#fff" fill-opacity="0.3"/>
<circle cx="257.63" cy="264.14" r="1.5" stroke="#ff0000" stroke-width="1.3" fill="#fff" fill-opacity="0.3"/>
<circle cx="261.02" cy="264.34" r="1.5" stroke="#ff0000" stroke-width="1.3" fill="#fff" fill-opacity="0.3"/>
<circle cx="264.4" cy="264.53" r="1.5" stroke="#ff0000" stroke-width="1.3" fill="#fff" fill-opacity="0.3"/>
<path d="M166.2 168 170.9 196.1 176 208.8 181 224 186.1 236.7 192.5 244.3 202.6 249.4 212 251.9 237.4 255 265.6 255.7" stroke="#00ffff" stroke-width="1.45" fill="none"/>
<path d="M164.1 166.2h4.2l-2.1 3.7zM167.49 186.44h4.2l-2.1 3.7zM170.87 199.46h4.2l-2.1 3.7zM174.26 208.09h4.2l-2.1 3.7zM177.64 218.38h4.2l-2.1 3.7zM181.03 227.51h4.2l-2.1 3.7zM184.42 235.4h4.2l-2.1 3.7zM187.8 239.42h4.2l-2.1 3.7zM191.19 242.9h4.2l-2.1 3.7zM194.58 244.61h4.2l-2.1 3.7zM197.96 246.32h4.2l-2.1 3.7zM201.35 247.83h4.2l-2.1 3.7zM204.74 248.73h4.2l-2.1 3.7zM208.12 249.63h4.2l-2.1 3.7zM211.51 250.3h4.2l-2.1 3.7zM214.9 250.71h4.2l-2.1 3.7zM218.28 251.12h4.2l-2.1 3.7zM221.67 251.54h4.2l-2.1 3.7zM225.05 251.95h4.2l-2.1 3.7zM228.44 252.36h4.2l-2.1 3.7zM231.83 252.78h4.2l-2.1 3.7zM235.21 253.19h4.2l-2.1 3.7zM238.6 253.28h4.2l-2.1 3.7zM241.99 253.37h4.2l-2.1 3.7zM245.37 253.45h4.2l-2.1 3.7zM248.76 253.53h4.2l-2.1 3.7zM252.15 253.62h4.2l-2.1 3.7zM255.53 253.7h4.2l-2.1 3.7zM258.92 253.79h4.2l-2.1 3.7zM262.3 253.87h4.2l-2.1 3.7z" fill="#00ffff"/>
<path d="M166.2 168 168.3 194.8 172.2 205 177.2 208.8 184.8 212.6 197.5 215.9 212 216.4 255.1 216.4 260.2 221.5 265.6 231.6" stroke="#0000ff" stroke-width="1.45" fill="none"/>
<path d="M164.1 169.8h4.2l-2.1 -3.7zM167.49 199.96h4.2l-2.1 -3.7zM170.87 207.39h4.2l-2.1 -3.7zM174.26 209.96h4.2l-2.1 -3.7zM177.64 211.87h4.2l-2.1 -3.7zM181.03 213.57h4.2l-2.1 -3.7zM184.42 214.85h4.2l-2.1 -3.7zM187.8 215.73h4.2l-2.1 -3.7zM191.19 216.61h4.2l-2.1 -3.7zM194.58 217.49h4.2l-2.1 -3.7zM197.96 217.79h4.2l-2.1 -3.7zM201.35 217.91h4.2l-2.1 -3.7zM204.74 218.02h4.2l-2.1 -3.7zM208.12 218.14h4.2l-2.1 -3.7zM211.51 218.2h4.2l-2.1 -3.7zM214.9 218.2h4.2l-2.1 -3.7zM218.28 218.2h4.2l-2.1 -3.7zM221.67 218.2h4.2l-2.1 -3.7zM225.05 218.2h4.2l-2.1 -3.7zM228.44 218.2h4.2l-2.1 -3.7zM231.83 218.2h4.2l-2.1 -3.7zM235.21 218.2h4.2l-2.1 -3.7zM238.6 218.2h4.2l-2.1 -3.7zM241.99 218.2h4.2l-2.1 -3.7zM245.37 218.2h4.2l-2.1 -3.7zM248.76 218.2h4.2l-2.1 -3.7zM252.15 218.2h4.2l-2.1 -3.7zM255.53 220.73h4.2l-2.1 -3.7zM258.92 224.83h4.2l-2.1 -3.7zM262.3 231.16h4.2l-2.1 -3.7z" fill="#0000ff"/>
<path d="M166.2 164.3 172.2 196.1 177.2 216.4 181 224 183.6 234.1 187.4 246.8 193.7 255.7 212 255.7 265.6 256.5" stroke="#ff00ff" stroke-width="1.45" fill="none"/>
<circle cx="166.2" cy="164.3" r="1.7" fill="#ff00ff"/>
<circle cx="169.59" cy="182.24" r="1.7" fill="#ff00ff"/>
<circle cx="172.97" cy="199.23" r="1.7" fill="#ff00ff"/>
<circle cx="176.36" cy="212.98" r="1.7" fill="#ff00ff"/>
<circle cx="179.74" cy="221.49" r="1.7" fill="#ff00ff"/>
<circle cx="183.13" cy="232.28" r="1.7" fill="#ff00ff"/>
<circle cx="186.52" cy="243.85" r="1.7" fill="#ff00ff"/>
<circle cx="189.9" cy="250.34" r="1.7" fill="#ff00ff"/>
<circle cx="193.29" cy="255.12" r="1.7" fill="#ff00ff"/>
<circle cx="196.68" cy="255.7" r="1.7" fill="#ff00ff"/>
<circle cx="200.06" cy="255.7" r="1.7" fill="#ff00ff"/>
<circle cx="203.45" cy="255.7" r="1.7" fill="#ff00ff"/>
<circle cx="206.84" cy="255.7" r="1.7" fill="#ff00ff"/>
<circle cx="210.22" cy="255.7" r="1.7" fill="#ff00ff"/>
<circle cx="213.61" cy="255.72" r="1.7" fill="#ff00ff"/>
<circle cx="217" cy="255.77" r="1.7" fill="#ff00ff"/>
<circle cx="220.38" cy="255.83" r="1.7" fill="#ff00ff"/>
<circle cx="223.77" cy="255.88" r="1.7" fill="#ff00ff"/>
<circle cx="227.15" cy="255.93" r="1.7" fill="#ff00ff"/>
<circle cx="230.54" cy="255.98" r="1.7" fill="#ff00ff"/>
<circle cx="233.93" cy="256.03" r="1.7" fill="#ff00ff"/>
<circle cx="237.31" cy="256.08" r="1.7" fill="#ff00ff"/>
<circle cx="240.7" cy="256.13" r="1.7" fill="#ff00ff"/>
<circle cx="244.09" cy="256.18" r="1.7" fill="#ff00ff"/>
<circle cx="247.47" cy="256.23" r="1.7" fill="#ff00ff"/>
<circle cx="250.86" cy="256.28" r="1.7" fill="#ff00ff"/>
<circle cx="254.25" cy="256.33" r="1.7" fill="#ff00ff"/>
<circle cx="257.63" cy="256.38" r="1.7" fill="#ff00ff"/>
<circle cx="261.02" cy="256.43" r="1.7" fill="#ff00ff"/>
<circle cx="264.4" cy="256.48" r="1.7" fill="#ff00ff"/>
<path d="M166.2 166 168.5 185 172.2 197.3 187.4 202.4 212 207.5 224.7 210 237.4 213.8 255.1 218.9 265.6 224" stroke="#00ff00" stroke-width="1.45" fill="none" stroke-dasharray="3.2 3.2"/>
<path d="M166.2 167 169.6 180.8 177.2 183.4 192.5 185.4 212 186.4 231 187.2 234.8 198.6 238.6 211.3 242.5 217.6 250.1 224 257.7 228.6 265.6 231.6" stroke="#00ffff" stroke-width="1.45" fill="none"/>
<path d="M166.2 165.6 168.3 172 177.2 174.5 187.4 178.3 200.1 183.4 212 189.7 222.2 199.9 229.8 211.3 237.4 221.5 245 234.1 252.6 246.8 257.7 251.9 265.6 254" stroke="#0000d0" stroke-width="1.45" fill="none"/>
<path d="M166.2 165.6 168.3 173.2 177.2 177 187.4 180.8 200.1 187.2 212 196.1 222.2 203.7 229.8 211.3 237.4 220.2 245 227.8 255.1 232.9 265.6 235.4" stroke="#ff00ff" stroke-width="1.45" fill="none"/>
<path d="M166.2 168 169.6 196.1 174.7 208.8 182.3 218.9 187.4 225.3 195 229.1 202.6 235.4 212 244.3 224.7 248.1 237.4 249.9 265.6 254" stroke="#00ff00" stroke-width="1.45" fill="none"/>
</g>
<text class="t" transform="translate(148.8 224) rotate(-90)" font-size="6.9" text-anchor="middle" fill="#000">Fitness</text>
<path d="M325 163.5V284.3M344.6 163.5V284.3M364.2 163.5V284.3M383.8 163.5V284.3M305.4 264.17H403.4M305.4 244.03H403.4M305.4 223.9H403.4M305.4 203.77H403.4M305.4 183.63H403.4" stroke="#e3e3e3" stroke-width="0.6" fill="none"/>
<text class="t" x="354.4" y="162.2" font-size="7.0" text-anchor="middle" fill="#000">CEC2022 F7 Dim=20</text>
<path d="M305.4 284.3v-1M305.4 163.5v1M325 284.3v-1M325 163.5v1M344.6 284.3v-1M344.6 163.5v1M364.2 284.3v-1M364.2 163.5v1M383.8 284.3v-1M383.8 163.5v1M403.4 284.3v-1M403.4 163.5v1M305.4 284.3h1M403.4 284.3h-1M305.4 264.17h1M403.4 264.17h-1M305.4 244.03h1M403.4 244.03h-1M305.4 223.9h1M403.4 223.9h-1M305.4 203.77h1M403.4 203.77h-1M305.4 183.63h1M403.4 183.63h-1M305.4 163.5h1M403.4 163.5h-1" stroke="#a6a6a6" stroke-width="0.6" fill="none"/>
<rect x="305.4" y="163.5" width="98" height="120.8" fill="none" stroke="#a6a6a6" stroke-width="0.7"/>
<text class="t" x="305.4" y="292.9" font-size="6.1" text-anchor="middle" fill="#000">0</text>
<text class="t" x="325" y="292.9" font-size="6.1" text-anchor="middle" fill="#000">100</text>
<text class="t" x="344.6" y="292.9" font-size="6.1" text-anchor="middle" fill="#000">200</text>
<text class="t" x="364.2" y="292.9" font-size="6.1" text-anchor="middle" fill="#000">300</text>
<text class="t" x="383.8" y="292.9" font-size="6.1" text-anchor="middle" fill="#000">400</text>
<text class="t" x="403.4" y="292.9" font-size="6.1" text-anchor="middle" fill="#000">500</text>
<text class="t" x="302.8" y="286.5" font-size="6.1" text-anchor="end" fill="#000">2000</text>
<text class="t" x="302.8" y="266.37" font-size="6.1" text-anchor="end" fill="#000">2100</text>
<text class="t" x="302.8" y="246.23" font-size="6.1" text-anchor="end" fill="#000">2200</text>
<text class="t" x="302.8" y="226.1" font-size="6.1" text-anchor="end" fill="#000">2300</text>
<text class="t" x="302.8" y="205.97" font-size="6.1" text-anchor="end" fill="#000">2400</text>
<text class="t" x="302.8" y="185.83" font-size="6.1" text-anchor="end" fill="#000">2500</text>
<text class="t" x="302.8" y="165.7" font-size="6.1" text-anchor="end" fill="#000">2600</text>
<text class="t" x="354.4" y="301.8" font-size="6.9" text-anchor="middle" fill="#000">Iterations</text>
<clipPath id="cF7"><rect x="302.4" y="160.5" width="104" height="126.8"/></clipPath>
<g clip-path="url(#cF7)">
<path d="M305.6 189.7 307.6 236.7 311.4 249.4 316.5 258.3 321.6 264.6 327.9 269.7 338.1 272.7 350 273.6 403.4 274.7" stroke="#ff0000" stroke-width="1.45" fill="none"/>
<circle cx="305.6" cy="189.7" r="1.5" stroke="#ff0000" stroke-width="1.3" fill="#fff" fill-opacity="0.3"/>
<circle cx="308.93" cy="241.14" r="1.5" stroke="#ff0000" stroke-width="1.3" fill="#fff" fill-opacity="0.3"/>
<circle cx="312.26" cy="250.9" r="1.5" stroke="#ff0000" stroke-width="1.3" fill="#fff" fill-opacity="0.3"/>
<circle cx="315.59" cy="256.72" r="1.5" stroke="#ff0000" stroke-width="1.3" fill="#fff" fill-opacity="0.3"/>
<circle cx="318.92" cy="261.29" r="1.5" stroke="#ff0000" stroke-width="1.3" fill="#fff" fill-opacity="0.3"/>
<circle cx="322.26" cy="265.13" r="1.5" stroke="#ff0000" stroke-width="1.3" fill="#fff" fill-opacity="0.3"/>
<circle cx="325.59" cy="267.83" r="1.5" stroke="#ff0000" stroke-width="1.3" fill="#fff" fill-opacity="0.3"/>
<circle cx="328.92" cy="270" r="1.5" stroke="#ff0000" stroke-width="1.3" fill="#fff" fill-opacity="0.3"/>
<circle cx="332.25" cy="270.98" r="1.5" stroke="#ff0000" stroke-width="1.3" fill="#fff" fill-opacity="0.3"/>
<circle cx="335.58" cy="271.96" r="1.5" stroke="#ff0000" stroke-width="1.3" fill="#fff" fill-opacity="0.3"/>
<circle cx="338.92" cy="272.76" r="1.5" stroke="#ff0000" stroke-width="1.3" fill="#fff" fill-opacity="0.3"/>
<circle cx="342.25" cy="273.01" r="1.5" stroke="#ff0000" stroke-width="1.3" fill="#fff" fill-opacity="0.3"/>
<circle cx="345.58" cy="273.27" r="1.5" stroke="#ff0000" stroke-width="1.3" fill="#fff" fill-opacity="0.3"/>
<circle cx="348.91" cy="273.52" r="1.5" stroke="#ff0000" stroke-width="1.3" fill="#fff" fill-opacity="0.3"/>
<circle cx="352.24" cy="273.65" r="1.5" stroke="#ff0000" stroke-width="1.3" fill="#fff" fill-opacity="0.3"/>
<circle cx="355.58" cy="273.71" r="1.5" stroke="#ff0000" stroke-width="1.3" fill="#fff" fill-opacity="0.3"/>
<circle cx="358.91" cy="273.78" r="1.5" stroke="#ff0000" stroke-width="1.3" fill="#fff" fill-opacity="0.3"/>
<circle cx="362.24" cy="273.85" r="1.5" stroke="#ff0000" stroke-width="1.3" fill="#fff" fill-opacity="0.3"/>
<circle cx="365.57" cy="273.92" r="1.5" stroke="#ff0000" stroke-width="1.3" fill="#fff" fill-opacity="0.3"/>
<circle cx="368.9" cy="273.99" r="1.5" stroke="#ff0000" stroke-width="1.3" fill="#fff" fill-opacity="0.3"/>
<circle cx="372.24" cy="274.06" r="1.5" stroke="#ff0000" stroke-width="1.3" fill="#fff" fill-opacity="0.3"/>
<circle cx="375.57" cy="274.13" r="1.5" stroke="#ff0000" stroke-width="1.3" fill="#fff" fill-opacity="0.3"/>
<circle cx="378.9" cy="274.2" r="1.5" stroke="#ff0000" stroke-width="1.3" fill="#fff" fill-opacity="0.3"/>
<circle cx="382.23" cy="274.26" r="1.5" stroke="#ff0000" stroke-width="1.3" fill="#fff" fill-opacity="0.3"/>
<circle cx="385.56" cy="274.33" r="1.5" stroke="#ff0000" stroke-width="1.3" fill="#fff" fill-opacity="0.3"/>
<circle cx="388.9" cy="274.4" r="1.5" stroke="#ff0000" stroke-width="1.3" fill="#fff" fill-opacity="0.3"/>
<circle cx="392.23" cy="274.47" r="1.5" stroke="#ff0000" stroke-width="1.3" fill="#fff" fill-opacity="0.3"/>
<circle cx="395.56" cy="274.54" r="1.5" stroke="#ff0000" stroke-width="1.3" fill="#fff" fill-opacity="0.3"/>
<circle cx="398.89" cy="274.61" r="1.5" stroke="#ff0000" stroke-width="1.3" fill="#fff" fill-opacity="0.3"/>
<circle cx="402.22" cy="274.68" r="1.5" stroke="#ff0000" stroke-width="1.3" fill="#fff" fill-opacity="0.3"/>
<path d="M305.6 185 306.3 221.5 311.4 234.1 317.8 241.8 330.5 248.1 350 255.7 403.4 258.7" stroke="#00ffff" stroke-width="1.45" fill="none"/>
<path d="M303.5 183.2h4.2l-2.1 3.7zM306.83 226.19h4.2l-2.1 3.7zM310.16 233.33h4.2l-2.1 3.7zM313.49 237.34h4.2l-2.1 3.7zM316.82 240.56h4.2l-2.1 3.7zM320.16 242.21h4.2l-2.1 3.7zM323.49 243.86h4.2l-2.1 3.7zM326.82 245.52h4.2l-2.1 3.7zM330.15 246.98h4.2l-2.1 3.7zM333.48 248.28h4.2l-2.1 3.7zM336.82 249.58h4.2l-2.1 3.7zM340.15 250.88h4.2l-2.1 3.7zM343.48 252.18h4.2l-2.1 3.7zM346.81 253.48h4.2l-2.1 3.7zM350.14 254.03h4.2l-2.1 3.7zM353.48 254.21h4.2l-2.1 3.7zM356.81 254.4h4.2l-2.1 3.7zM360.14 254.59h4.2l-2.1 3.7zM363.47 254.77h4.2l-2.1 3.7zM366.8 254.96h4.2l-2.1 3.7zM370.14 255.15h4.2l-2.1 3.7zM373.47 255.34h4.2l-2.1 3.7zM376.8 255.52h4.2l-2.1 3.7zM380.13 255.71h4.2l-2.1 3.7zM383.46 255.9h4.2l-2.1 3.7zM386.8 256.09h4.2l-2.1 3.7zM390.13 256.27h4.2l-2.1 3.7zM393.46 256.46h4.2l-2.1 3.7zM396.79 256.65h4.2l-2.1 3.7zM400.12 256.83h4.2l-2.1 3.7z" fill="#00ffff"/>
<path d="M305.6 177.8 307.6 208.8 311.4 234.1 317.8 244.3 325.4 246.8 338.1 250.6 350 253.4 403.4 255.7" stroke="#0000ff" stroke-width="1.45" fill="none"/>
<path d="M303.5 179.6h4.2l-2.1 -3.7zM306.83 219.44h4.2l-2.1 -3.7zM310.16 237.27h4.2l-2.1 -3.7zM313.49 242.58h4.2l-2.1 -3.7zM316.82 246.47h4.2l-2.1 -3.7zM320.16 247.57h4.2l-2.1 -3.7zM323.49 248.66h4.2l-2.1 -3.7zM326.82 249.65h4.2l-2.1 -3.7zM330.15 250.65h4.2l-2.1 -3.7zM333.48 251.65h4.2l-2.1 -3.7zM336.82 252.59h4.2l-2.1 -3.7zM340.15 253.38h4.2l-2.1 -3.7zM343.48 254.16h4.2l-2.1 -3.7zM346.81 254.94h4.2l-2.1 -3.7zM350.14 255.3h4.2l-2.1 -3.7zM353.48 255.44h4.2l-2.1 -3.7zM356.81 255.58h4.2l-2.1 -3.7zM360.14 255.73h4.2l-2.1 -3.7zM363.47 255.87h4.2l-2.1 -3.7zM366.8 256.01h4.2l-2.1 -3.7zM370.14 256.16h4.2l-2.1 -3.7zM373.47 256.3h4.2l-2.1 -3.7zM376.8 256.44h4.2l-2.1 -3.7zM380.13 256.59h4.2l-2.1 -3.7zM383.46 256.73h4.2l-2.1 -3.7zM386.8 256.88h4.2l-2.1 -3.7zM390.13 257.02h4.2l-2.1 -3.7zM393.46 257.16h4.2l-2.1 -3.7zM396.79 257.31h4.2l-2.1 -3.7zM400.12 257.45h4.2l-2.1 -3.7z" fill="#0000ff"/>
<path d="M305.6 173.2 308.9 234.1 314 244.3 322.8 251.9 335.5 257 350 259.5 403.4 261" stroke="#ff00ff" stroke-width="1.45" fill="none"/>
<circle cx="305.6" cy="173.2" r="1.7" fill="#ff00ff"/>
<circle cx="308.93" cy="234.16" r="1.7" fill="#ff00ff"/>
<circle cx="312.26" cy="240.82" r="1.7" fill="#ff00ff"/>
<circle cx="315.59" cy="245.67" r="1.7" fill="#ff00ff"/>
<circle cx="318.92" cy="248.55" r="1.7" fill="#ff00ff"/>
<circle cx="322.26" cy="251.43" r="1.7" fill="#ff00ff"/>
<circle cx="325.59" cy="253.02" r="1.7" fill="#ff00ff"/>
<circle cx="328.92" cy="254.36" r="1.7" fill="#ff00ff"/>
<circle cx="332.25" cy="255.7" r="1.7" fill="#ff00ff"/>
<circle cx="335.58" cy="257.01" r="1.7" fill="#ff00ff"/>
<circle cx="338.92" cy="257.59" r="1.7" fill="#ff00ff"/>
<circle cx="342.25" cy="258.16" r="1.7" fill="#ff00ff"/>
<circle cx="345.58" cy="258.74" r="1.7" fill="#ff00ff"/>
<circle cx="348.91" cy="259.31" r="1.7" fill="#ff00ff"/>
<circle cx="352.24" cy="259.56" r="1.7" fill="#ff00ff"/>
<circle cx="355.58" cy="259.66" r="1.7" fill="#ff00ff"/>
<circle cx="358.91" cy="259.75" r="1.7" fill="#ff00ff"/>
<circle cx="362.24" cy="259.84" r="1.7" fill="#ff00ff"/>
<circle cx="365.57" cy="259.94" r="1.7" fill="#ff00ff"/>
<circle cx="368.9" cy="260.03" r="1.7" fill="#ff00ff"/>
<circle cx="372.24" cy="260.12" r="1.7" fill="#ff00ff"/>
<circle cx="375.57" cy="260.22" r="1.7" fill="#ff00ff"/>
<circle cx="378.9" cy="260.31" r="1.7" fill="#ff00ff"/>
<circle cx="382.23" cy="260.41" r="1.7" fill="#ff00ff"/>
<circle cx="385.56" cy="260.5" r="1.7" fill="#ff00ff"/>
<circle cx="388.9" cy="260.59" r="1.7" fill="#ff00ff"/>
<circle cx="392.23" cy="260.69" r="1.7" fill="#ff00ff"/>
<circle cx="395.56" cy="260.78" r="1.7" fill="#ff00ff"/>
<circle cx="398.89" cy="260.87" r="1.7" fill="#ff00ff"/>
<circle cx="402.22" cy="260.97" r="1.7" fill="#ff00ff"/>
<path d="M305.6 183 307 225 310 240 316 248 330 252 350 254 365 255 380 258 403.4 262.5" stroke="#00ff00" stroke-width="1.45" fill="none" stroke-dasharray="3.2 3.2"/>
<path d="M305.6 182 306.3 213.8 311.4 225.3 320.3 230.3 338.1 234.1 350 237.2 369.8 240.1 372.8 248.1 377.4 252.6 388 255.7 403.4 256.4" stroke="#00ffff" stroke-width="1.45" fill="none"/>
<path d="M305.6 180 306.3 208.8 310.2 221.5 315.2 226.5 325.4 231.6 338.1 238 350 245.8 362.2 250.3 372.8 253.4 380.4 257.2 389.6 259.5 403.4 260.2" stroke="#0000d0" stroke-width="1.45" fill="none"/>
<path d="M305.6 178 306.3 196.1 308.9 218.9 315.2 225.3 325.4 227.8 338.1 229.6 350 231.6 365.2 234 380.4 236.6 403.4 239.7" stroke="#ff00ff" stroke-width="1.45" fill="none"/>
<path d="M305.6 185 306.5 220 308.5 236 313.9 249.6 322.7 258.4 334.4 262.8 357.9 267.2 403.4 268.6" stroke="#00ff00" stroke-width="1.45" fill="none"/>
</g>
<text class="t" transform="translate(286.1 224) rotate(-90)" font-size="6.9" text-anchor="middle" fill="#000">Fitness</text>
<path d="M458.15 163.5V284.3M478.8 163.5V284.3M499.45 163.5V284.3M520.1 163.5V284.3M437.5 254.1H540.75M437.5 223.9H540.75M437.5 193.7H540.75" stroke="#e3e3e3" stroke-width="0.6" fill="none"/>
<text class="t" x="489.12" y="162.2" font-size="7.0" text-anchor="middle" fill="#000">CEC2022 F8 Dim=20</text>
<path d="M437.5 284.3v-1M437.5 163.5v1M458.15 284.3v-1M458.15 163.5v1M478.8 284.3v-1M478.8 163.5v1M499.45 284.3v-1M499.45 163.5v1M520.1 284.3v-1M520.1 163.5v1M540.75 284.3v-1M540.75 163.5v1M437.5 284.3h1M540.75 284.3h-1M437.5 254.1h1M540.75 254.1h-1M437.5 223.9h1M540.75 223.9h-1M437.5 193.7h1M540.75 193.7h-1M437.5 163.5h1M540.75 163.5h-1" stroke="#a6a6a6" stroke-width="0.6" fill="none"/>
<rect x="437.5" y="163.5" width="103.25" height="120.8" fill="none" stroke="#a6a6a6" stroke-width="0.7"/>
<text class="t" x="437.5" y="292.9" font-size="6.1" text-anchor="middle" fill="#000">0</text>
<text class="t" x="458.15" y="292.9" font-size="6.1" text-anchor="middle" fill="#000">100</text>
<text class="t" x="478.8" y="292.9" font-size="6.1" text-anchor="middle" fill="#000">200</text>
<text class="t" x="499.45" y="292.9" font-size="6.1" text-anchor="middle" fill="#000">300</text>
<text class="t" x="520.1" y="292.9" font-size="6.1" text-anchor="middle" fill="#000">400</text>
<text class="t" x="540.75" y="292.9" font-size="6.1" text-anchor="middle" fill="#000">500</text>
<text class="t" x="434.9" y="286.5" font-size="6.1" text-anchor="end" fill="#000">0</text>
<text class="t" x="434.9" y="256.3" font-size="6.1" text-anchor="end" fill="#000">0.5</text>
<text class="t" x="434.9" y="226.1" font-size="6.1" text-anchor="end" fill="#000">1</text>
<text class="t" x="434.9" y="195.9" font-size="6.1" text-anchor="end" fill="#000">1.5</text>
<text class="t" x="434.9" y="165.7" font-size="6.1" text-anchor="end" fill="#000">2</text>
<text class="t" x="489.12" y="301.8" font-size="6.9" text-anchor="middle" fill="#000">Iterations</text>
<clipPath id="cF8"><rect x="434.5" y="160.5" width="109.25" height="126.8"/></clipPath>
<g clip-path="url(#cF8)">
<path d="M437.7 247.3 440.5 268 441.5 270.8 540.75 271" stroke="#ff0000" stroke-width="1.45" fill="none"/>
<circle cx="437.71" cy="247.35" r="1.5" stroke="#ff0000" stroke-width="1.3" fill="#fff" fill-opacity="0.3"/>
<circle cx="441.22" cy="270.01" r="1.5" stroke="#ff0000" stroke-width="1.3" fill="#fff" fill-opacity="0.3"/>
<circle cx="444.73" cy="270.81" r="1.5" stroke="#ff0000" stroke-width="1.3" fill="#fff" fill-opacity="0.3"/>
<circle cx="448.24" cy="270.81" r="1.5" stroke="#ff0000" stroke-width="1.3" fill="#fff" fill-opacity="0.3"/>
<circle cx="451.75" cy="270.82" r="1.5" stroke="#ff0000" stroke-width="1.3" fill="#fff" fill-opacity="0.3"/>
<circle cx="455.26" cy="270.83" r="1.5" stroke="#ff0000" stroke-width="1.3" fill="#fff" fill-opacity="0.3"/>
<circle cx="458.77" cy="270.83" r="1.5" stroke="#ff0000" stroke-width="1.3" fill="#fff" fill-opacity="0.3"/>
<circle cx="462.28" cy="270.84" r="1.5" stroke="#ff0000" stroke-width="1.3" fill="#fff" fill-opacity="0.3"/>
<circle cx="465.79" cy="270.85" r="1.5" stroke="#ff0000" stroke-width="1.3" fill="#fff" fill-opacity="0.3"/>
<circle cx="469.3" cy="270.86" r="1.5" stroke="#ff0000" stroke-width="1.3" fill="#fff" fill-opacity="0.3"/>
<circle cx="472.81" cy="270.86" r="1.5" stroke="#ff0000" stroke-width="1.3" fill="#fff" fill-opacity="0.3"/>
<circle cx="476.32" cy="270.87" r="1.5" stroke="#ff0000" stroke-width="1.3" fill="#fff" fill-opacity="0.3"/>
<circle cx="479.83" cy="270.88" r="1.5" stroke="#ff0000" stroke-width="1.3" fill="#fff" fill-opacity="0.3"/>
<circle cx="483.34" cy="270.88" r="1.5" stroke="#ff0000" stroke-width="1.3" fill="#fff" fill-opacity="0.3"/>
<circle cx="486.85" cy="270.89" r="1.5" stroke="#ff0000" stroke-width="1.3" fill="#fff" fill-opacity="0.3"/>
<circle cx="490.36" cy="270.9" r="1.5" stroke="#ff0000" stroke-width="1.3" fill="#fff" fill-opacity="0.3"/>
<circle cx="493.87" cy="270.91" r="1.5" stroke="#ff0000" stroke-width="1.3" fill="#fff" fill-opacity="0.3"/>
<circle cx="497.38" cy="270.91" r="1.5" stroke="#ff0000" stroke-width="1.3" fill="#fff" fill-opacity="0.3"/>
<circle cx="500.9" cy="270.92" r="1.5" stroke="#ff0000" stroke-width="1.3" fill="#fff" fill-opacity="0.3"/>
<circle cx="504.41" cy="270.93" r="1.5" stroke="#ff0000" stroke-width="1.3" fill="#fff" fill-opacity="0.3"/>
<circle cx="507.92" cy="270.93" r="1.5" stroke="#ff0000" stroke-width="1.3" fill="#fff" fill-opacity="0.3"/>
<circle cx="511.43" cy="270.94" r="1.5" stroke="#ff0000" stroke-width="1.3" fill="#fff" fill-opacity="0.3"/>
<circle cx="514.94" cy="270.95" r="1.5" stroke="#ff0000" stroke-width="1.3" fill="#fff" fill-opacity="0.3"/>
<circle cx="518.45" cy="270.96" r="1.5" stroke="#ff0000" stroke-width="1.3" fill="#fff" fill-opacity="0.3"/>
<circle cx="521.96" cy="270.96" r="1.5" stroke="#ff0000" stroke-width="1.3" fill="#fff" fill-opacity="0.3"/>
<circle cx="525.47" cy="270.97" r="1.5" stroke="#ff0000" stroke-width="1.3" fill="#fff" fill-opacity="0.3"/>
<circle cx="528.98" cy="270.98" r="1.5" stroke="#ff0000" stroke-width="1.3" fill="#fff" fill-opacity="0.3"/>
<circle cx="532.49" cy="270.98" r="1.5" stroke="#ff0000" stroke-width="1.3" fill="#fff" fill-opacity="0.3"/>
<circle cx="536" cy="270.99" r="1.5" stroke="#ff0000" stroke-width="1.3" fill="#fff" fill-opacity="0.3"/>
<circle cx="539.51" cy="271" r="1.5" stroke="#ff0000" stroke-width="1.3" fill="#fff" fill-opacity="0.3"/>
<path d="M437.7 226.5 440.5 266 441.5 270 540.75 270.2" stroke="#00ffff" stroke-width="1.45" fill="none"/>
<path d="M435.61 224.79h4.2l-2.1 3.7zM439.12 267.07h4.2l-2.1 3.7zM442.63 268.21h4.2l-2.1 3.7zM446.14 268.21h4.2l-2.1 3.7zM449.65 268.22h4.2l-2.1 3.7zM453.16 268.23h4.2l-2.1 3.7zM456.67 268.23h4.2l-2.1 3.7zM460.18 268.24h4.2l-2.1 3.7zM463.69 268.25h4.2l-2.1 3.7zM467.2 268.26h4.2l-2.1 3.7zM470.71 268.26h4.2l-2.1 3.7zM474.22 268.27h4.2l-2.1 3.7zM477.73 268.28h4.2l-2.1 3.7zM481.24 268.28h4.2l-2.1 3.7zM484.75 268.29h4.2l-2.1 3.7zM488.26 268.3h4.2l-2.1 3.7zM491.77 268.31h4.2l-2.1 3.7zM495.28 268.31h4.2l-2.1 3.7zM498.8 268.32h4.2l-2.1 3.7zM502.31 268.33h4.2l-2.1 3.7zM505.82 268.33h4.2l-2.1 3.7zM509.33 268.34h4.2l-2.1 3.7zM512.84 268.35h4.2l-2.1 3.7zM516.35 268.36h4.2l-2.1 3.7zM519.86 268.36h4.2l-2.1 3.7zM523.37 268.37h4.2l-2.1 3.7zM526.88 268.38h4.2l-2.1 3.7zM530.39 268.38h4.2l-2.1 3.7zM533.9 268.39h4.2l-2.1 3.7zM537.41 268.4h4.2l-2.1 3.7z" fill="#00ffff"/>
<path d="M437.7 260.8 440.8 265.7 442.2 267.2 448.1 268.4 453.9 269 540.75 269.1" stroke="#0000ff" stroke-width="1.45" fill="none"/>
<path d="M435.61 262.61h4.2l-2.1 -3.7zM439.12 267.95h4.2l-2.1 -3.7zM442.63 269.51h4.2l-2.1 -3.7zM446.14 270.21h4.2l-2.1 -3.7zM449.65 270.58h4.2l-2.1 -3.7zM453.16 270.8h4.2l-2.1 -3.7zM456.67 270.81h4.2l-2.1 -3.7zM460.18 270.81h4.2l-2.1 -3.7zM463.69 270.81h4.2l-2.1 -3.7zM467.2 270.82h4.2l-2.1 -3.7zM470.71 270.82h4.2l-2.1 -3.7zM474.22 270.83h4.2l-2.1 -3.7zM477.73 270.83h4.2l-2.1 -3.7zM481.24 270.83h4.2l-2.1 -3.7zM484.75 270.84h4.2l-2.1 -3.7zM488.26 270.84h4.2l-2.1 -3.7zM491.77 270.85h4.2l-2.1 -3.7zM495.28 270.85h4.2l-2.1 -3.7zM498.8 270.85h4.2l-2.1 -3.7zM502.31 270.86h4.2l-2.1 -3.7zM505.82 270.86h4.2l-2.1 -3.7zM509.33 270.87h4.2l-2.1 -3.7zM512.84 270.87h4.2l-2.1 -3.7zM516.35 270.87h4.2l-2.1 -3.7zM519.86 270.88h4.2l-2.1 -3.7zM523.37 270.88h4.2l-2.1 -3.7zM526.88 270.89h4.2l-2.1 -3.7zM530.39 270.89h4.2l-2.1 -3.7zM533.9 270.89h4.2l-2.1 -3.7zM537.41 270.9h4.2l-2.1 -3.7z" fill="#0000ff"/>
<path d="M437.7 171.2 440 262 441 270.7 540.75 270.9" stroke="#ff00ff" stroke-width="1.45" fill="none"/>
<circle cx="437.71" cy="171.46" r="1.7" fill="#ff00ff"/>
<circle cx="441.22" cy="270.7" r="1.7" fill="#ff00ff"/>
<circle cx="444.73" cy="270.71" r="1.7" fill="#ff00ff"/>
<circle cx="448.24" cy="270.71" r="1.7" fill="#ff00ff"/>
<circle cx="451.75" cy="270.72" r="1.7" fill="#ff00ff"/>
<circle cx="455.26" cy="270.73" r="1.7" fill="#ff00ff"/>
<circle cx="458.77" cy="270.74" r="1.7" fill="#ff00ff"/>
<circle cx="462.28" cy="270.74" r="1.7" fill="#ff00ff"/>
<circle cx="465.79" cy="270.75" r="1.7" fill="#ff00ff"/>
<circle cx="469.3" cy="270.76" r="1.7" fill="#ff00ff"/>
<circle cx="472.81" cy="270.76" r="1.7" fill="#ff00ff"/>
<circle cx="476.32" cy="270.77" r="1.7" fill="#ff00ff"/>
<circle cx="479.83" cy="270.78" r="1.7" fill="#ff00ff"/>
<circle cx="483.34" cy="270.78" r="1.7" fill="#ff00ff"/>
<circle cx="486.85" cy="270.79" r="1.7" fill="#ff00ff"/>
<circle cx="490.36" cy="270.8" r="1.7" fill="#ff00ff"/>
<circle cx="493.87" cy="270.81" r="1.7" fill="#ff00ff"/>
<circle cx="497.38" cy="270.81" r="1.7" fill="#ff00ff"/>
<circle cx="500.9" cy="270.82" r="1.7" fill="#ff00ff"/>
<circle cx="504.41" cy="270.83" r="1.7" fill="#ff00ff"/>
<circle cx="507.92" cy="270.83" r="1.7" fill="#ff00ff"/>
<circle cx="511.43" cy="270.84" r="1.7" fill="#ff00ff"/>
<circle cx="514.94" cy="270.85" r="1.7" fill="#ff00ff"/>
<circle cx="518.45" cy="270.86" r="1.7" fill="#ff00ff"/>
<circle cx="521.96" cy="270.86" r="1.7" fill="#ff00ff"/>
<circle cx="525.47" cy="270.87" r="1.7" fill="#ff00ff"/>
<circle cx="528.98" cy="270.88" r="1.7" fill="#ff00ff"/>
<circle cx="532.49" cy="270.88" r="1.7" fill="#ff00ff"/>
<circle cx="536" cy="270.89" r="1.7" fill="#ff00ff"/>
<circle cx="539.51" cy="270.9" r="1.7" fill="#ff00ff"/>
<path d="M437.7 235 441 270 540.75 270.2" stroke="#00ff00" stroke-width="1.45" fill="none" stroke-dasharray="3.2 3.2"/>
<path d="M437.7 245 441 269 540.75 269.9" stroke="#00ffff" stroke-width="1.45" fill="none"/>
<path d="M437.7 250 440 266 445 268 540.75 269.4" stroke="#0000d0" stroke-width="1.45" fill="none"/>
<path d="M437.7 240 441 270 540.75 270.4" stroke="#ff00ff" stroke-width="1.45" fill="none"/>
<path d="M437.7 230 441 270 540.75 270.2" stroke="#00ff00" stroke-width="1.45" fill="none"/>
</g>
<text class="t" x="438.5" y="162" font-size="6.1" fill="#000">×</text>
<text class="t" x="442.2" y="162" font-size="6.4" fill="#000">10</text>
<text class="t" x="449.9" y="159.2" font-size="5.0" fill="#000">4</text>
<text class="t" transform="translate(423.8 224) rotate(-90)" font-size="6.9" text-anchor="middle" fill="#000">Fitness</text>
<path d="M49.9 315.4V435.5M69.55 315.4V435.5M89.2 315.4V435.5M108.85 315.4V435.5M30.25 434.68H128.5M30.25 397.19H128.5M30.25 359.71H128.5M30.25 322.22H128.5" stroke="#e3e3e3" stroke-width="0.6" fill="none"/>
<text class="t" x="79.38" y="314.1" font-size="7.0" text-anchor="middle" fill="#000">CEC2022 F9 Dim=20</text>
<path d="M30.25 435.5v-1M30.25 315.4v1M49.9 435.5v-1M49.9 315.4v1M69.55 435.5v-1M69.55 315.4v1M89.2 435.5v-1M89.2 315.4v1M108.85 435.5v-1M108.85 315.4v1M128.5 435.5v-1M128.5 315.4v1M30.25 434.68h1M128.5 434.68h-1M30.25 397.19h1M128.5 397.19h-1M30.25 359.71h1M128.5 359.71h-1M30.25 322.22h1M128.5 322.22h-1" stroke="#a6a6a6" stroke-width="0.6" fill="none"/>
<rect x="30.25" y="315.4" width="98.25" height="120.1" fill="none" stroke="#a6a6a6" stroke-width="0.7"/>
<text class="t" x="30.25" y="444.1" font-size="6.1" text-anchor="middle" fill="#000">0</text>
<text class="t" x="49.9" y="444.1" font-size="6.1" text-anchor="middle" fill="#000">100</text>
<text class="t" x="69.55" y="444.1" font-size="6.1" text-anchor="middle" fill="#000">200</text>
<text class="t" x="89.2" y="444.1" font-size="6.1" text-anchor="middle" fill="#000">300</text>
<text class="t" x="108.85" y="444.1" font-size="6.1" text-anchor="middle" fill="#000">400</text>
<text class="t" x="128.5" y="444.1" font-size="6.1" text-anchor="middle" fill="#000">500</text>
<text class="t" x="27.65" y="436.88" font-size="6.1" text-anchor="end" fill="#000">2500</text>
<text class="t" x="27.65" y="399.39" font-size="6.1" text-anchor="end" fill="#000">3000</text>
<text class="t" x="27.65" y="361.91" font-size="6.1" text-anchor="end" fill="#000">3500</text>
<text class="t" x="27.65" y="324.42" font-size="6.1" text-anchor="end" fill="#000">4000</text>
<text class="t" x="79.38" y="453" font-size="6.9" text-anchor="middle" fill="#000">Iterations</text>
<clipPath id="cF9"><rect x="27.25" y="312.4" width="104.25" height="126.1"/></clipPath>
<g clip-path="url(#cF9)">
<path d="M30.45 359.5 32.3 429.3 33.6 432.3 41.2 434.6 82.1 435.1 128.5 435.3" stroke="#ff0000" stroke-width="1.45" fill="none"/>
<circle cx="30.45" cy="359.5" r="1.5" stroke="#ff0000" stroke-width="1.3" fill="#fff" fill-opacity="0.3"/>
<circle cx="33.79" cy="432.36" r="1.5" stroke="#ff0000" stroke-width="1.3" fill="#fff" fill-opacity="0.3"/>
<circle cx="37.13" cy="433.37" r="1.5" stroke="#ff0000" stroke-width="1.3" fill="#fff" fill-opacity="0.3"/>
<circle cx="40.47" cy="434.38" r="1.5" stroke="#ff0000" stroke-width="1.3" fill="#fff" fill-opacity="0.3"/>
<circle cx="43.81" cy="434.63" r="1.5" stroke="#ff0000" stroke-width="1.3" fill="#fff" fill-opacity="0.3"/>
<circle cx="47.15" cy="434.67" r="1.5" stroke="#ff0000" stroke-width="1.3" fill="#fff" fill-opacity="0.3"/>
<circle cx="50.49" cy="434.71" r="1.5" stroke="#ff0000" stroke-width="1.3" fill="#fff" fill-opacity="0.3"/>
<circle cx="53.83" cy="434.75" r="1.5" stroke="#ff0000" stroke-width="1.3" fill="#fff" fill-opacity="0.3"/>
<circle cx="57.17" cy="434.8" r="1.5" stroke="#ff0000" stroke-width="1.3" fill="#fff" fill-opacity="0.3"/>
<circle cx="60.51" cy="434.84" r="1.5" stroke="#ff0000" stroke-width="1.3" fill="#fff" fill-opacity="0.3"/>
<circle cx="63.85" cy="434.88" r="1.5" stroke="#ff0000" stroke-width="1.3" fill="#fff" fill-opacity="0.3"/>
<circle cx="67.19" cy="434.92" r="1.5" stroke="#ff0000" stroke-width="1.3" fill="#fff" fill-opacity="0.3"/>
<circle cx="70.53" cy="434.96" r="1.5" stroke="#ff0000" stroke-width="1.3" fill="#fff" fill-opacity="0.3"/>
<circle cx="73.87" cy="435" r="1.5" stroke="#ff0000" stroke-width="1.3" fill="#fff" fill-opacity="0.3"/>
<circle cx="77.21" cy="435.04" r="1.5" stroke="#ff0000" stroke-width="1.3" fill="#fff" fill-opacity="0.3"/>
<circle cx="80.55" cy="435.08" r="1.5" stroke="#ff0000" stroke-width="1.3" fill="#fff" fill-opacity="0.3"/>
<circle cx="83.89" cy="435.11" r="1.5" stroke="#ff0000" stroke-width="1.3" fill="#fff" fill-opacity="0.3"/>
<circle cx="87.23" cy="435.12" r="1.5" stroke="#ff0000" stroke-width="1.3" fill="#fff" fill-opacity="0.3"/>
<circle cx="90.58" cy="435.14" r="1.5" stroke="#ff0000" stroke-width="1.3" fill="#fff" fill-opacity="0.3"/>
<circle cx="93.92" cy="435.15" r="1.5" stroke="#ff0000" stroke-width="1.3" fill="#fff" fill-opacity="0.3"/>
<circle cx="97.26" cy="435.17" r="1.5" stroke="#ff0000" stroke-width="1.3" fill="#fff" fill-opacity="0.3"/>
<circle cx="100.6" cy="435.18" r="1.5" stroke="#ff0000" stroke-width="1.3" fill="#fff" fill-opacity="0.3"/>
<circle cx="103.94" cy="435.19" r="1.5" stroke="#ff0000" stroke-width="1.3" fill="#fff" fill-opacity="0.3"/>
<circle cx="107.28" cy="435.21" r="1.5" stroke="#ff0000" stroke-width="1.3" fill="#fff" fill-opacity="0.3"/>
<circle cx="110.62" cy="435.22" r="1.5" stroke="#ff0000" stroke-width="1.3" fill="#fff" fill-opacity="0.3"/>
<circle cx="113.96" cy="435.24" r="1.5" stroke="#ff0000" stroke-width="1.3" fill="#fff" fill-opacity="0.3"/>
<circle cx="117.3" cy="435.25" r="1.5" stroke="#ff0000" stroke-width="1.3" fill="#fff" fill-opacity="0.3"/>
<circle cx="120.64" cy="435.27" r="1.5" stroke="#ff0000" stroke-width="1.3" fill="#fff" fill-opacity="0.3"/>
<circle cx="123.98" cy="435.28" r="1.5" stroke="#ff0000" stroke-width="1.3" fill="#fff" fill-opacity="0.3"/>
<circle cx="127.32" cy="435.29" r="1.5" stroke="#ff0000" stroke-width="1.3" fill="#fff" fill-opacity="0.3"/>
<path d="M30.45 334.1 32.3 386.1 33.6 411.5 36.2 417.9 41.2 424.2 51.4 426.8 82.1 428 128.5 428.7" stroke="#00ffff" stroke-width="1.45" fill="none"/>
<path d="M28.35 332.3h4.2l-2.1 3.7zM31.69 410.16h4.2l-2.1 3.7zM35.03 417.27h4.2l-2.1 3.7zM38.37 421.48h4.2l-2.1 3.7zM41.71 423.06h4.2l-2.1 3.7zM45.05 423.92h4.2l-2.1 3.7zM48.39 424.77h4.2l-2.1 3.7zM51.73 425.09h4.2l-2.1 3.7zM55.07 425.23h4.2l-2.1 3.7zM58.41 425.36h4.2l-2.1 3.7zM61.75 425.49h4.2l-2.1 3.7zM65.09 425.62h4.2l-2.1 3.7zM68.43 425.75h4.2l-2.1 3.7zM71.77 425.88h4.2l-2.1 3.7zM75.11 426.01h4.2l-2.1 3.7zM78.45 426.14h4.2l-2.1 3.7zM81.79 426.23h4.2l-2.1 3.7zM85.14 426.28h4.2l-2.1 3.7zM88.48 426.33h4.2l-2.1 3.7zM91.82 426.38h4.2l-2.1 3.7zM95.16 426.43h4.2l-2.1 3.7zM98.5 426.48h4.2l-2.1 3.7zM101.84 426.53h4.2l-2.1 3.7zM105.18 426.58h4.2l-2.1 3.7zM108.52 426.63h4.2l-2.1 3.7zM111.86 426.68h4.2l-2.1 3.7zM115.2 426.73h4.2l-2.1 3.7zM118.54 426.78h4.2l-2.1 3.7zM121.88 426.83h4.2l-2.1 3.7zM125.22 426.88h4.2l-2.1 3.7z" fill="#00ffff"/>
<path d="M30.45 349.3 32.3 422.9 36.2 426.2 82.1 427.3 103.3 428.1 128.5 429.5" stroke="#0000ff" stroke-width="1.45" fill="none"/>
<path d="M28.35 351.1h4.2l-2.1 -3.7zM31.69 425.96h4.2l-2.1 -3.7zM35.03 428.02h4.2l-2.1 -3.7zM38.37 428.1h4.2l-2.1 -3.7zM41.71 428.18h4.2l-2.1 -3.7zM45.05 428.26h4.2l-2.1 -3.7zM48.39 428.34h4.2l-2.1 -3.7zM51.73 428.42h4.2l-2.1 -3.7zM55.07 428.5h4.2l-2.1 -3.7zM58.41 428.58h4.2l-2.1 -3.7zM61.75 428.66h4.2l-2.1 -3.7zM65.09 428.74h4.2l-2.1 -3.7zM68.43 428.82h4.2l-2.1 -3.7zM71.77 428.9h4.2l-2.1 -3.7zM75.11 428.98h4.2l-2.1 -3.7zM78.45 429.06h4.2l-2.1 -3.7zM81.79 429.17h4.2l-2.1 -3.7zM85.14 429.29h4.2l-2.1 -3.7zM88.48 429.42h4.2l-2.1 -3.7zM91.82 429.55h4.2l-2.1 -3.7zM95.16 429.67h4.2l-2.1 -3.7zM98.5 429.8h4.2l-2.1 -3.7zM101.84 429.94h4.2l-2.1 -3.7zM105.18 430.12h4.2l-2.1 -3.7zM108.52 430.31h4.2l-2.1 -3.7zM111.86 430.49h4.2l-2.1 -3.7zM115.2 430.68h4.2l-2.1 -3.7zM118.54 430.86h4.2l-2.1 -3.7zM121.88 431.05h4.2l-2.1 -3.7zM125.22 431.23h4.2l-2.1 -3.7z" fill="#0000ff"/>
<path d="M30.45 315.1 32.3 406.4 34.9 421.7 38.7 428.5 51.4 432 82.1 433.2 128.5 433.8" stroke="#ff00ff" stroke-width="1.45" fill="none"/>
<circle cx="30.45" cy="315.1" r="1.7" fill="#ff00ff"/>
<circle cx="33.79" cy="415.15" r="1.7" fill="#ff00ff"/>
<circle cx="37.13" cy="425.69" r="1.7" fill="#ff00ff"/>
<circle cx="40.47" cy="428.99" r="1.7" fill="#ff00ff"/>
<circle cx="43.81" cy="429.91" r="1.7" fill="#ff00ff"/>
<circle cx="47.15" cy="430.83" r="1.7" fill="#ff00ff"/>
<circle cx="50.49" cy="431.75" r="1.7" fill="#ff00ff"/>
<circle cx="53.83" cy="432.09" r="1.7" fill="#ff00ff"/>
<circle cx="57.17" cy="432.23" r="1.7" fill="#ff00ff"/>
<circle cx="60.51" cy="432.36" r="1.7" fill="#ff00ff"/>
<circle cx="63.85" cy="432.49" r="1.7" fill="#ff00ff"/>
<circle cx="67.19" cy="432.62" r="1.7" fill="#ff00ff"/>
<circle cx="70.53" cy="432.75" r="1.7" fill="#ff00ff"/>
<circle cx="73.87" cy="432.88" r="1.7" fill="#ff00ff"/>
<circle cx="77.21" cy="433.01" r="1.7" fill="#ff00ff"/>
<circle cx="80.55" cy="433.14" r="1.7" fill="#ff00ff"/>
<circle cx="83.89" cy="433.22" r="1.7" fill="#ff00ff"/>
<circle cx="87.23" cy="433.27" r="1.7" fill="#ff00ff"/>
<circle cx="90.58" cy="433.31" r="1.7" fill="#ff00ff"/>
<circle cx="93.92" cy="433.35" r="1.7" fill="#ff00ff"/>
<circle cx="97.26" cy="433.4" r="1.7" fill="#ff00ff"/>
<circle cx="100.6" cy="433.44" r="1.7" fill="#ff00ff"/>
<circle cx="103.94" cy="433.48" r="1.7" fill="#ff00ff"/>
<circle cx="107.28" cy="433.53" r="1.7" fill="#ff00ff"/>
<circle cx="110.62" cy="433.57" r="1.7" fill="#ff00ff"/>
<circle cx="113.96" cy="433.61" r="1.7" fill="#ff00ff"/>
<circle cx="117.3" cy="433.66" r="1.7" fill="#ff00ff"/>
<circle cx="120.64" cy="433.7" r="1.7" fill="#ff00ff"/>
<circle cx="123.98" cy="433.74" r="1.7" fill="#ff00ff"/>
<circle cx="127.32" cy="433.78" r="1.7" fill="#ff00ff"/>
<path d="M30.45 338 32.3 424 35 429 82.1 431 128.5 431.8" stroke="#00ff00" stroke-width="1.45" fill="none" stroke-dasharray="3.2 3.2"/>
<path d="M30.45 334 32.3 388.7 36.2 396.3 43.8 400.1 53.9 403.9 64.1 407 76 408.9 93.8 409.6 96.5 413.7 100.6 419.9 104.7 425.3 110.2 426.7 128.5 428.1" stroke="#00ffff" stroke-width="1.45" fill="none"/>
<path d="M30.45 326 32.3 360.8 34.9 376 37.4 384.9 43.8 392.5 51.4 400.1 59 405.2 66.6 411.5 76 419.9 84.2 423.3 92.4 426 103.3 428.1 117 429.4 128.5 430.8" stroke="#0000d0" stroke-width="1.45" fill="none"/>
<path d="M30.45 330 32.3 386.1 36.2 393.8 43.8 398.8 51.4 403.9 64.1 409 76 417.1 84.2 420.5 92.4 423.3 103.3 426 114.3 428.1 128.5 430.1" stroke="#ff00ff" stroke-width="1.45" fill="none"/>
<path d="M30.45 335 32.3 421.7 34.9 428.5 82.1 431.8 128.5 433" stroke="#00ff00" stroke-width="1.45" fill="none"/>
</g>
<text class="t" transform="translate(11.1 375.3) rotate(-90)" font-size="6.9" text-anchor="middle" fill="#000">Fitness</text>
<path d="M187.32 315.4V435.5M206.89 315.4V435.5M226.46 315.4V435.5M246.03 315.4V435.5M167.75 423.51H265.6M167.75 392.42H265.6M167.75 368.3H265.6M167.75 348.59H265.6M167.75 331.93H265.6M167.75 317.5H265.6" stroke="#e3e3e3" stroke-width="0.6" fill="none"/>
<text class="t" x="216.68" y="314.1" font-size="7.0" text-anchor="middle" fill="#000">CEC2022 F10 Dim=20</text>
<path d="M167.75 435.5v-1M167.75 315.4v1M187.32 435.5v-1M187.32 315.4v1M206.89 435.5v-1M206.89 315.4v1M226.46 435.5v-1M226.46 315.4v1M246.03 435.5v-1M246.03 315.4v1M265.6 435.5v-1M265.6 315.4v1M167.75 423.51h1M265.6 423.51h-1M167.75 392.42h1M265.6 392.42h-1M167.75 368.3h1M265.6 368.3h-1M167.75 348.59h1M265.6 348.59h-1M167.75 331.93h1M265.6 331.93h-1M167.75 317.5h1M265.6 317.5h-1" stroke="#a6a6a6" stroke-width="0.6" fill="none"/>
<rect x="167.75" y="315.4" width="97.85" height="120.1" fill="none" stroke="#a6a6a6" stroke-width="0.7"/>
<text class="t" x="167.75" y="444.1" font-size="6.1" text-anchor="middle" fill="#000">0</text>
<text class="t" x="187.32" y="444.1" font-size="6.1" text-anchor="middle" fill="#000">100</text>
<text class="t" x="206.89" y="444.1" font-size="6.1" text-anchor="middle" fill="#000">200</text>
<text class="t" x="226.46" y="444.1" font-size="6.1" text-anchor="middle" fill="#000">300</text>
<text class="t" x="246.03" y="444.1" font-size="6.1" text-anchor="middle" fill="#000">400</text>
<text class="t" x="265.6" y="444.1" font-size="6.1" text-anchor="middle" fill="#000">500</text>
<text class="t" x="165.15" y="425.71" font-size="6.1" text-anchor="end" fill="#000">3000</text>
<text class="t" x="165.15" y="394.62" font-size="6.1" text-anchor="end" fill="#000">4000</text>
<text class="t" x="165.15" y="370.5" font-size="6.1" text-anchor="end" fill="#000">5000</text>
<text class="t" x="165.15" y="350.79" font-size="6.1" text-anchor="end" fill="#000">6000</text>
<text class="t" x="165.15" y="334.13" font-size="6.1" text-anchor="end" fill="#000">7000</text>
<text class="t" x="165.15" y="319.7" font-size="6.1" text-anchor="end" fill="#000">8000</text>
<text class="t" x="216.68" y="453" font-size="6.9" text-anchor="middle" fill="#000">Iterations</text>
<clipPath id="cF10"><rect x="164.75" y="312.4" width="103.85" height="126.1"/></clipPath>
<g clip-path="url(#cF10)">
<path d="M167.95 325.2 169.6 348.1 173.4 362 175.5 366.25 177.8 372 180.9 378 184.1 383.4 188 389.7 191.1 394.4 195 400.6 198.1 405.3 201.25 409.2 204.4 412.3 208.3 416.25 211.4 419.4 215.3 422.5 218.4 424.8 221.6 426.4 225.5 428.75 228.6 431.1 237.4 432.6 250.1 433.6 265.6 434.4" stroke="#ff0000" stroke-width="1.45" fill="none"/>
<circle cx="167.95" cy="325.2" r="1.5" stroke="#ff0000" stroke-width="1.3" fill="#fff" fill-opacity="0.3"/>
<circle cx="171.27" cy="354.22" r="1.5" stroke="#ff0000" stroke-width="1.3" fill="#fff" fill-opacity="0.3"/>
<circle cx="174.6" cy="364.43" r="1.5" stroke="#ff0000" stroke-width="1.3" fill="#fff" fill-opacity="0.3"/>
<circle cx="177.93" cy="372.24" r="1.5" stroke="#ff0000" stroke-width="1.3" fill="#fff" fill-opacity="0.3"/>
<circle cx="181.25" cy="378.6" r="1.5" stroke="#ff0000" stroke-width="1.3" fill="#fff" fill-opacity="0.3"/>
<circle cx="184.58" cy="384.18" r="1.5" stroke="#ff0000" stroke-width="1.3" fill="#fff" fill-opacity="0.3"/>
<circle cx="187.91" cy="389.55" r="1.5" stroke="#ff0000" stroke-width="1.3" fill="#fff" fill-opacity="0.3"/>
<circle cx="191.23" cy="394.61" r="1.5" stroke="#ff0000" stroke-width="1.3" fill="#fff" fill-opacity="0.3"/>
<circle cx="194.56" cy="399.9" r="1.5" stroke="#ff0000" stroke-width="1.3" fill="#fff" fill-opacity="0.3"/>
<circle cx="197.89" cy="404.98" r="1.5" stroke="#ff0000" stroke-width="1.3" fill="#fff" fill-opacity="0.3"/>
<circle cx="201.21" cy="409.16" r="1.5" stroke="#ff0000" stroke-width="1.3" fill="#fff" fill-opacity="0.3"/>
<circle cx="204.54" cy="412.44" r="1.5" stroke="#ff0000" stroke-width="1.3" fill="#fff" fill-opacity="0.3"/>
<circle cx="207.87" cy="415.81" r="1.5" stroke="#ff0000" stroke-width="1.3" fill="#fff" fill-opacity="0.3"/>
<circle cx="211.2" cy="419.19" r="1.5" stroke="#ff0000" stroke-width="1.3" fill="#fff" fill-opacity="0.3"/>
<circle cx="214.52" cy="421.88" r="1.5" stroke="#ff0000" stroke-width="1.3" fill="#fff" fill-opacity="0.3"/>
<circle cx="217.85" cy="424.39" r="1.5" stroke="#ff0000" stroke-width="1.3" fill="#fff" fill-opacity="0.3"/>
<circle cx="221.18" cy="426.19" r="1.5" stroke="#ff0000" stroke-width="1.3" fill="#fff" fill-opacity="0.3"/>
<circle cx="224.5" cy="428.15" r="1.5" stroke="#ff0000" stroke-width="1.3" fill="#fff" fill-opacity="0.3"/>
<circle cx="227.83" cy="430.52" r="1.5" stroke="#ff0000" stroke-width="1.3" fill="#fff" fill-opacity="0.3"/>
<circle cx="231.16" cy="431.54" r="1.5" stroke="#ff0000" stroke-width="1.3" fill="#fff" fill-opacity="0.3"/>
<circle cx="234.48" cy="432.1" r="1.5" stroke="#ff0000" stroke-width="1.3" fill="#fff" fill-opacity="0.3"/>
<circle cx="237.81" cy="432.63" r="1.5" stroke="#ff0000" stroke-width="1.3" fill="#fff" fill-opacity="0.3"/>
<circle cx="241.14" cy="432.89" r="1.5" stroke="#ff0000" stroke-width="1.3" fill="#fff" fill-opacity="0.3"/>
<circle cx="244.46" cy="433.16" r="1.5" stroke="#ff0000" stroke-width="1.3" fill="#fff" fill-opacity="0.3"/>
<circle cx="247.79" cy="433.42" r="1.5" stroke="#ff0000" stroke-width="1.3" fill="#fff" fill-opacity="0.3"/>
<circle cx="251.12" cy="433.65" r="1.5" stroke="#ff0000" stroke-width="1.3" fill="#fff" fill-opacity="0.3"/>
<circle cx="254.45" cy="433.82" r="1.5" stroke="#ff0000" stroke-width="1.3" fill="#fff" fill-opacity="0.3"/>
<circle cx="257.77" cy="434" r="1.5" stroke="#ff0000" stroke-width="1.3" fill="#fff" fill-opacity="0.3"/>
<circle cx="261.1" cy="434.17" r="1.5" stroke="#ff0000" stroke-width="1.3" fill="#fff" fill-opacity="0.3"/>
<circle cx="264.43" cy="434.34" r="1.5" stroke="#ff0000" stroke-width="1.3" fill="#fff" fill-opacity="0.3"/>
<path d="M167.95 320 170.5 334 173.7 341 181 351.3 189.8 358.6 195.6 363 201.5 367.4 210.3 370.3 216.2 377.6 222 383.5 227.9 387.9 233.7 390.8 242.5 393.7 257.2 398.1 265.6 402.5" stroke="#00ffff" stroke-width="1.45" fill="none"/>
<path d="M165.85 318.2h4.2l-2.1 3.7zM169.17 333.89h4.2l-2.1 3.7zM172.5 340.47h4.2l-2.1 3.7zM175.83 345.16h4.2l-2.1 3.7zM179.15 349.71h4.2l-2.1 3.7zM182.48 352.47h4.2l-2.1 3.7zM185.81 355.23h4.2l-2.1 3.7zM189.13 357.89h4.2l-2.1 3.7zM192.46 360.41h4.2l-2.1 3.7zM195.79 362.91h4.2l-2.1 3.7zM199.11 365.39h4.2l-2.1 3.7zM202.44 366.6h4.2l-2.1 3.7zM205.77 367.7h4.2l-2.1 3.7zM209.1 369.61h4.2l-2.1 3.7zM212.42 373.72h4.2l-2.1 3.7zM215.75 377.48h4.2l-2.1 3.7zM219.08 380.86h4.2l-2.1 3.7zM222.4 383.57h4.2l-2.1 3.7zM225.73 386.05h4.2l-2.1 3.7zM229.06 387.73h4.2l-2.1 3.7zM232.38 389.26h4.2l-2.1 3.7zM235.71 390.35h4.2l-2.1 3.7zM239.04 391.45h4.2l-2.1 3.7zM242.36 392.49h4.2l-2.1 3.7zM245.69 393.48h4.2l-2.1 3.7zM249.02 394.48h4.2l-2.1 3.7zM252.35 395.48h4.2l-2.1 3.7zM255.67 396.6h4.2l-2.1 3.7zM259 398.34h4.2l-2.1 3.7zM262.33 400.08h4.2l-2.1 3.7z" fill="#00ffff"/>
<path d="M167.95 321.4 170.2 355 173.7 376.2 176.6 382 181 385 186.9 386.4 198.6 387.9 219.1 390.8 227.9 399.6 236.7 404 245.4 409.8 254.2 414.2 265.6 420.7" stroke="#0000ff" stroke-width="1.45" fill="none"/>
<path d="M165.85 323.2h4.2l-2.1 -3.7zM169.17 363.3h4.2l-2.1 -3.7zM172.5 379.8h4.2l-2.1 -3.7zM175.83 384.7h4.2l-2.1 -3.7zM179.15 386.86h4.2l-2.1 -3.7zM182.48 387.65h4.2l-2.1 -3.7zM185.81 388.33h4.2l-2.1 -3.7zM189.13 388.76h4.2l-2.1 -3.7zM192.46 389.18h4.2l-2.1 -3.7zM195.79 389.61h4.2l-2.1 -3.7zM199.11 390.07h4.2l-2.1 -3.7zM202.44 390.54h4.2l-2.1 -3.7zM205.77 391.01h4.2l-2.1 -3.7zM209.1 391.48h4.2l-2.1 -3.7zM212.42 391.95h4.2l-2.1 -3.7zM215.75 392.42h4.2l-2.1 -3.7zM219.08 394.68h4.2l-2.1 -3.7zM222.4 398h4.2l-2.1 -3.7zM225.73 401.33h4.2l-2.1 -3.7zM229.06 403.03h4.2l-2.1 -3.7zM232.38 404.69h4.2l-2.1 -3.7zM235.71 406.54h4.2l-2.1 -3.7zM239.04 408.76h4.2l-2.1 -3.7zM242.36 410.98h4.2l-2.1 -3.7zM245.69 412.8h4.2l-2.1 -3.7zM249.02 414.46h4.2l-2.1 -3.7zM252.35 416.14h4.2l-2.1 -3.7zM255.67 418.04h4.2l-2.1 -3.7zM259 419.93h4.2l-2.1 -3.7zM262.33 421.83h4.2l-2.1 -3.7z" fill="#0000ff"/>
<path d="M167.95 315.1 169.6 360.8 172.2 376 174.7 393.8 177.2 411.5 182.3 421.7 187.4 425.5 195 429.3 205.1 433.1 218.1 434.4 265.6 434.9" stroke="#ff00ff" stroke-width="1.45" fill="none"/>
<circle cx="167.95" cy="315.1" r="1.7" fill="#ff00ff"/>
<circle cx="171.27" cy="370.58" r="1.7" fill="#ff00ff"/>
<circle cx="174.6" cy="393.08" r="1.7" fill="#ff00ff"/>
<circle cx="177.93" cy="412.95" r="1.7" fill="#ff00ff"/>
<circle cx="181.25" cy="419.61" r="1.7" fill="#ff00ff"/>
<circle cx="184.58" cy="423.4" r="1.7" fill="#ff00ff"/>
<circle cx="187.91" cy="425.75" r="1.7" fill="#ff00ff"/>
<circle cx="191.23" cy="427.42" r="1.7" fill="#ff00ff"/>
<circle cx="194.56" cy="429.08" r="1.7" fill="#ff00ff"/>
<circle cx="197.89" cy="430.39" r="1.7" fill="#ff00ff"/>
<circle cx="201.21" cy="431.64" r="1.7" fill="#ff00ff"/>
<circle cx="204.54" cy="432.89" r="1.7" fill="#ff00ff"/>
<circle cx="207.87" cy="433.38" r="1.7" fill="#ff00ff"/>
<circle cx="211.2" cy="433.71" r="1.7" fill="#ff00ff"/>
<circle cx="214.52" cy="434.04" r="1.7" fill="#ff00ff"/>
<circle cx="217.85" cy="434.37" r="1.7" fill="#ff00ff"/>
<circle cx="221.18" cy="434.43" r="1.7" fill="#ff00ff"/>
<circle cx="224.5" cy="434.47" r="1.7" fill="#ff00ff"/>
<circle cx="227.83" cy="434.5" r="1.7" fill="#ff00ff"/>
<circle cx="231.16" cy="434.54" r="1.7" fill="#ff00ff"/>
<circle cx="234.48" cy="434.57" r="1.7" fill="#ff00ff"/>
<circle cx="237.81" cy="434.61" r="1.7" fill="#ff00ff"/>
<circle cx="241.14" cy="434.64" r="1.7" fill="#ff00ff"/>
<circle cx="244.46" cy="434.68" r="1.7" fill="#ff00ff"/>
<circle cx="247.79" cy="434.71" r="1.7" fill="#ff00ff"/>
<circle cx="251.12" cy="434.75" r="1.7" fill="#ff00ff"/>
<circle cx="254.45" cy="434.78" r="1.7" fill="#ff00ff"/>
<circle cx="257.77" cy="434.82" r="1.7" fill="#ff00ff"/>
<circle cx="261.1" cy="434.85" r="1.7" fill="#ff00ff"/>
<circle cx="264.43" cy="434.89" r="1.7" fill="#ff00ff"/>
<path d="M167.95 322 172 345 178.1 352.7 186.9 358.6 198.6 364.4 216.2 368.8 227.9 376.2 242.5 384.9 265.6 396.7" stroke="#00ff00" stroke-width="1.45" fill="none" stroke-dasharray="3.2 3.2"/>
<path d="M167.95 320 170.5 336 175 348 181 354.2 189.8 360 198.6 365.9 207.4 367.4 216.2 373.2 224.9 387.9 230.8 402.5 239.6 411.3 251.3 414.2 265.6 415.7" stroke="#00ffff" stroke-width="1.45" fill="none"/>
<path d="M167.95 321 169.3 326.4 173.7 333.7 176.6 336.6 182.5 341 186.9 346.9 192.7 351.3 198.6 367.4 207.4 368.8 216.2 370.3 222 373.2 227.9 380.6 233.7 390.8 242.5 395.2 257.2 396.7 265.6 396.7" stroke="#0000d0" stroke-width="1.45" fill="none"/>
<path d="M167.95 318 170.8 341 183.9 346.9 198.6 351.3 213.2 357.1 227.9 364.4 242.5 374.7 257.2 384.9 265.6 392.3" stroke="#ff00ff" stroke-width="1.45" fill="none"/>
<path d="M167.95 325 169.6 373.5 172.2 406.4 174.7 419.1 179.8 425.5 187.4 430.6 200.1 433.1 218.1 434.4 265.6 434.9" stroke="#00ff00" stroke-width="1.45" fill="none"/>
</g>
<text class="t" transform="translate(148.8 375.3) rotate(-90)" font-size="6.9" text-anchor="middle" fill="#000">Fitness</text>
<path d="M301.25 419.85H403.4M301.25 410.69H403.4M301.25 404.2H403.4M301.25 399.16H403.4M301.25 395.04H403.4M301.25 391.56H403.4M301.25 388.55H403.4M301.25 385.89H403.4M301.25 367.86H403.4M301.25 358.7H403.4M301.25 352.21H403.4M301.25 347.17H403.4M301.25 343.05H403.4M301.25 339.57H403.4M301.25 336.56H403.4M301.25 333.9H403.4M301.25 315.87H403.4" stroke="#efefef" stroke-width="0.6" fill="none"/>
<path d="M321.68 315.4V435.5M342.11 315.4V435.5M362.54 315.4V435.5M382.97 315.4V435.5M301.25 383.51H403.4M301.25 331.52H403.4" stroke="#e3e3e3" stroke-width="0.6" fill="none"/>
<text class="t" x="352.32" y="314.1" font-size="7.0" text-anchor="middle" fill="#000">CEC2022 F11 Dim=20</text>
<path d="M301.25 435.5v-1M301.25 315.4v1M321.68 435.5v-1M321.68 315.4v1M342.11 435.5v-1M342.11 315.4v1M362.54 435.5v-1M362.54 315.4v1M382.97 435.5v-1M382.97 315.4v1M403.4 435.5v-1M403.4 315.4v1M301.25 435.5h1M403.4 435.5h-1M301.25 383.51h1M403.4 383.51h-1M301.25 331.52h1M403.4 331.52h-1" stroke="#a6a6a6" stroke-width="0.6" fill="none"/>
<rect x="301.25" y="315.4" width="102.15" height="120.1" fill="none" stroke="#a6a6a6" stroke-width="0.7"/>
<text class="t" x="301.25" y="444.1" font-size="6.1" text-anchor="middle" fill="#000">0</text>
<text class="t" x="321.68" y="444.1" font-size="6.1" text-anchor="middle" fill="#000">100</text>
<text class="t" x="342.11" y="444.1" font-size="6.1" text-anchor="middle" fill="#000">200</text>
<text class="t" x="362.54" y="444.1" font-size="6.1" text-anchor="middle" fill="#000">300</text>
<text class="t" x="382.97" y="444.1" font-size="6.1" text-anchor="middle" fill="#000">400</text>
<text class="t" x="403.4" y="444.1" font-size="6.1" text-anchor="middle" fill="#000">500</text>
<text class="t" x="296.07" y="436.7" font-size="5.0" text-anchor="start" fill="#000">3</text>
<text class="t" x="295.97" y="438.6" font-size="6.1" text-anchor="end" fill="#000">10</text>
<text class="t" x="296.07" y="384.71" font-size="5.0" text-anchor="start" fill="#000">4</text>
<text class="t" x="295.97" y="386.61" font-size="6.1" text-anchor="end" fill="#000">10</text>
<text class="t" x="296.07" y="332.72" font-size="5.0" text-anchor="start" fill="#000">5</text>
<text class="t" x="295.97" y="334.62" font-size="6.1" text-anchor="end" fill="#000">10</text>
<text class="t" x="352.32" y="453" font-size="6.9" text-anchor="middle" fill="#000">Iterations</text>
<clipPath id="cF11"><rect x="298.25" y="312.4" width="108.15" height="126.1"/></clipPath>
<g clip-path="url(#cF11)">
<path d="M301.45 324 303.1 360.8 306.2 383.6 311.2 396.3 316.3 406.4 323.9 410.3 334.1 411.5 403.4 412" stroke="#ff0000" stroke-width="1.45" fill="none"/>
<circle cx="301.45" cy="324.1" r="1.5" stroke="#ff0000" stroke-width="1.3" fill="#fff" fill-opacity="0.3"/>
<circle cx="304.93" cy="374.24" r="1.5" stroke="#ff0000" stroke-width="1.3" fill="#fff" fill-opacity="0.3"/>
<circle cx="308.4" cy="389.19" r="1.5" stroke="#ff0000" stroke-width="1.3" fill="#fff" fill-opacity="0.3"/>
<circle cx="311.87" cy="397.63" r="1.5" stroke="#ff0000" stroke-width="1.3" fill="#fff" fill-opacity="0.3"/>
<circle cx="315.35" cy="404.51" r="1.5" stroke="#ff0000" stroke-width="1.3" fill="#fff" fill-opacity="0.3"/>
<circle cx="318.82" cy="407.69" r="1.5" stroke="#ff0000" stroke-width="1.3" fill="#fff" fill-opacity="0.3"/>
<circle cx="322.29" cy="409.48" r="1.5" stroke="#ff0000" stroke-width="1.3" fill="#fff" fill-opacity="0.3"/>
<circle cx="325.77" cy="410.52" r="1.5" stroke="#ff0000" stroke-width="1.3" fill="#fff" fill-opacity="0.3"/>
<circle cx="329.24" cy="410.93" r="1.5" stroke="#ff0000" stroke-width="1.3" fill="#fff" fill-opacity="0.3"/>
<circle cx="332.71" cy="411.34" r="1.5" stroke="#ff0000" stroke-width="1.3" fill="#fff" fill-opacity="0.3"/>
<circle cx="336.19" cy="411.52" r="1.5" stroke="#ff0000" stroke-width="1.3" fill="#fff" fill-opacity="0.3"/>
<circle cx="339.66" cy="411.54" r="1.5" stroke="#ff0000" stroke-width="1.3" fill="#fff" fill-opacity="0.3"/>
<circle cx="343.13" cy="411.57" r="1.5" stroke="#ff0000" stroke-width="1.3" fill="#fff" fill-opacity="0.3"/>
<circle cx="346.6" cy="411.59" r="1.5" stroke="#ff0000" stroke-width="1.3" fill="#fff" fill-opacity="0.3"/>
<circle cx="350.08" cy="411.62" r="1.5" stroke="#ff0000" stroke-width="1.3" fill="#fff" fill-opacity="0.3"/>
<circle cx="353.55" cy="411.64" r="1.5" stroke="#ff0000" stroke-width="1.3" fill="#fff" fill-opacity="0.3"/>
<circle cx="357.02" cy="411.67" r="1.5" stroke="#ff0000" stroke-width="1.3" fill="#fff" fill-opacity="0.3"/>
<circle cx="360.5" cy="411.69" r="1.5" stroke="#ff0000" stroke-width="1.3" fill="#fff" fill-opacity="0.3"/>
<circle cx="363.97" cy="411.72" r="1.5" stroke="#ff0000" stroke-width="1.3" fill="#fff" fill-opacity="0.3"/>
<circle cx="367.44" cy="411.74" r="1.5" stroke="#ff0000" stroke-width="1.3" fill="#fff" fill-opacity="0.3"/>
<circle cx="370.92" cy="411.77" r="1.5" stroke="#ff0000" stroke-width="1.3" fill="#fff" fill-opacity="0.3"/>
<circle cx="374.39" cy="411.79" r="1.5" stroke="#ff0000" stroke-width="1.3" fill="#fff" fill-opacity="0.3"/>
<circle cx="377.86" cy="411.82" r="1.5" stroke="#ff0000" stroke-width="1.3" fill="#fff" fill-opacity="0.3"/>
<circle cx="381.34" cy="411.84" r="1.5" stroke="#ff0000" stroke-width="1.3" fill="#fff" fill-opacity="0.3"/>
<circle cx="384.81" cy="411.87" r="1.5" stroke="#ff0000" stroke-width="1.3" fill="#fff" fill-opacity="0.3"/>
<circle cx="388.28" cy="411.89" r="1.5" stroke="#ff0000" stroke-width="1.3" fill="#fff" fill-opacity="0.3"/>
<circle cx="391.75" cy="411.92" r="1.5" stroke="#ff0000" stroke-width="1.3" fill="#fff" fill-opacity="0.3"/>
<circle cx="395.23" cy="411.94" r="1.5" stroke="#ff0000" stroke-width="1.3" fill="#fff" fill-opacity="0.3"/>
<circle cx="398.7" cy="411.97" r="1.5" stroke="#ff0000" stroke-width="1.3" fill="#fff" fill-opacity="0.3"/>
<circle cx="402.17" cy="411.99" r="1.5" stroke="#ff0000" stroke-width="1.3" fill="#fff" fill-opacity="0.3"/>
<path d="M301.45 330 304 380 307 388 311.2 391.2 321.4 397.6 334.1 401.4 348 403.9 403.4 409" stroke="#00ffff" stroke-width="1.45" fill="none"/>
<path d="M299.35 328.28h4.2l-2.1 3.7zM302.83 380.67h4.2l-2.1 3.7zM306.3 387.27h4.2l-2.1 3.7zM309.77 389.82h4.2l-2.1 3.7zM313.25 392h4.2l-2.1 3.7zM316.72 394.18h4.2l-2.1 3.7zM320.19 396.07h4.2l-2.1 3.7zM323.67 397.11h4.2l-2.1 3.7zM327.14 398.15h4.2l-2.1 3.7zM330.61 399.18h4.2l-2.1 3.7zM334.09 399.98h4.2l-2.1 3.7zM337.56 400.6h4.2l-2.1 3.7zM341.03 401.22h4.2l-2.1 3.7zM344.5 401.85h4.2l-2.1 3.7zM347.98 402.29h4.2l-2.1 3.7zM351.45 402.61h4.2l-2.1 3.7zM354.92 402.93h4.2l-2.1 3.7zM358.4 403.25h4.2l-2.1 3.7zM361.87 403.57h4.2l-2.1 3.7zM365.34 403.89h4.2l-2.1 3.7zM368.82 404.21h4.2l-2.1 3.7zM372.29 404.53h4.2l-2.1 3.7zM375.76 404.85h4.2l-2.1 3.7zM379.24 405.17h4.2l-2.1 3.7zM382.71 405.49h4.2l-2.1 3.7zM386.18 405.81h4.2l-2.1 3.7zM389.65 406.13h4.2l-2.1 3.7zM393.13 406.45h4.2l-2.1 3.7zM396.6 406.77h4.2l-2.1 3.7zM400.07 407.09h4.2l-2.1 3.7z" fill="#00ffff"/>
<path d="M301.45 317.1 304.9 340.5 308.7 354.4 311.2 368.4 315 386.1 318.8 401.4 323.9 407.7 334.1 411 403.4 411.5" stroke="#0000ff" stroke-width="1.45" fill="none"/>
<path d="M299.35 318.93h4.2l-2.1 -3.7zM302.83 342.4h4.2l-2.1 -3.7zM306.3 355.1h4.2l-2.1 -3.7zM309.77 373.34h4.2l-2.1 -3.7zM313.25 389.3h4.2l-2.1 -3.7zM316.72 403.22h4.2l-2.1 -3.7zM320.19 407.51h4.2l-2.1 -3.7zM323.67 410.1h4.2l-2.1 -3.7zM327.14 411.23h4.2l-2.1 -3.7zM330.61 412.35h4.2l-2.1 -3.7zM334.09 412.82h4.2l-2.1 -3.7zM337.56 412.84h4.2l-2.1 -3.7zM341.03 412.87h4.2l-2.1 -3.7zM344.5 412.89h4.2l-2.1 -3.7zM347.98 412.92h4.2l-2.1 -3.7zM351.45 412.94h4.2l-2.1 -3.7zM354.92 412.97h4.2l-2.1 -3.7zM358.4 412.99h4.2l-2.1 -3.7zM361.87 413.02h4.2l-2.1 -3.7zM365.34 413.04h4.2l-2.1 -3.7zM368.82 413.07h4.2l-2.1 -3.7zM372.29 413.09h4.2l-2.1 -3.7zM375.76 413.12h4.2l-2.1 -3.7zM379.24 413.14h4.2l-2.1 -3.7zM382.71 413.17h4.2l-2.1 -3.7zM386.18 413.19h4.2l-2.1 -3.7zM389.65 413.22h4.2l-2.1 -3.7zM393.13 413.24h4.2l-2.1 -3.7zM396.6 413.27h4.2l-2.1 -3.7zM400.07 413.29h4.2l-2.1 -3.7z" fill="#0000ff"/>
<path d="M301.45 315.1 303.6 350 306.2 378.5 310 393.8 316.3 403.9 326.5 407.7 352.1 410.3 403.4 411" stroke="#ff00ff" stroke-width="1.45" fill="none"/>
<circle cx="301.45" cy="315.17" r="1.7" fill="#ff00ff"/>
<circle cx="304.93" cy="364.55" r="1.7" fill="#ff00ff"/>
<circle cx="308.4" cy="387.36" r="1.7" fill="#ff00ff"/>
<circle cx="311.87" cy="396.8" r="1.7" fill="#ff00ff"/>
<circle cx="315.35" cy="402.37" r="1.7" fill="#ff00ff"/>
<circle cx="318.82" cy="404.84" r="1.7" fill="#ff00ff"/>
<circle cx="322.29" cy="406.13" r="1.7" fill="#ff00ff"/>
<circle cx="325.77" cy="407.43" r="1.7" fill="#ff00ff"/>
<circle cx="329.24" cy="407.98" r="1.7" fill="#ff00ff"/>
<circle cx="332.71" cy="408.33" r="1.7" fill="#ff00ff"/>
<circle cx="336.19" cy="408.68" r="1.7" fill="#ff00ff"/>
<circle cx="339.66" cy="409.04" r="1.7" fill="#ff00ff"/>
<circle cx="343.13" cy="409.39" r="1.7" fill="#ff00ff"/>
<circle cx="346.6" cy="409.74" r="1.7" fill="#ff00ff"/>
<circle cx="350.08" cy="410.09" r="1.7" fill="#ff00ff"/>
<circle cx="353.55" cy="410.32" r="1.7" fill="#ff00ff"/>
<circle cx="357.02" cy="410.37" r="1.7" fill="#ff00ff"/>
<circle cx="360.5" cy="410.41" r="1.7" fill="#ff00ff"/>
<circle cx="363.97" cy="410.46" r="1.7" fill="#ff00ff"/>
<circle cx="367.44" cy="410.51" r="1.7" fill="#ff00ff"/>
<circle cx="370.92" cy="410.56" r="1.7" fill="#ff00ff"/>
<circle cx="374.39" cy="410.6" r="1.7" fill="#ff00ff"/>
<circle cx="377.86" cy="410.65" r="1.7" fill="#ff00ff"/>
<circle cx="381.34" cy="410.7" r="1.7" fill="#ff00ff"/>
<circle cx="384.81" cy="410.75" r="1.7" fill="#ff00ff"/>
<circle cx="388.28" cy="410.79" r="1.7" fill="#ff00ff"/>
<circle cx="391.75" cy="410.84" r="1.7" fill="#ff00ff"/>
<circle cx="395.23" cy="410.89" r="1.7" fill="#ff00ff"/>
<circle cx="398.7" cy="410.94" r="1.7" fill="#ff00ff"/>
<circle cx="402.17" cy="410.98" r="1.7" fill="#ff00ff"/>
<path d="M301.45 322 303.6 388.7 306.2 396.3 311.2 401.4 321.4 403.9 348 405.9 386.1 407.7 403.4 409" stroke="#00ff00" stroke-width="1.45" fill="none" stroke-dasharray="3.2 3.2"/>
<path d="M301.45 330 303.6 384.9 311.2 388.7 326.5 391.2 348 392.5 367 392.5 373.4 398.8 381 402.6 391.1 405.2 403.4 407" stroke="#00ffff" stroke-width="1.45" fill="none"/>
<path d="M301.45 318 304.9 335.4 307.4 348.1 316.3 349.3 326.5 350.6 336.6 351.9 342 354 345.5 357.5 348 361.5 351.9 373.2 355.8 383.9 359.7 392.7 363.6 399.6 369.5 405.4 377.3 409.3 387.1 411.3 403.4 411.9" stroke="#0000d0" stroke-width="1.45" fill="none"/>
<path d="M301.45 320 303.6 383.6 311.2 386.1 326.5 388.7 348 393.8 360.7 397.6 373.4 401.4 386.1 404.4 403.4 406.4" stroke="#ff00ff" stroke-width="1.45" fill="none"/>
<path d="M301.45 320 304.5 350 307.4 376 311.2 388.7 316.3 396.3 321.4 401.4 331.5 405.2 352.1 406.4 403.4 409.5" stroke="#00ff00" stroke-width="1.45" fill="none"/>
</g>
<text class="t" transform="translate(286.1 375.3) rotate(-90)" font-size="6.9" text-anchor="middle" fill="#000">Fitness</text>
<path d="M462.15 315.4V435.5M481.8 315.4V435.5M501.45 315.4V435.5M521.1 315.4V435.5M442.5 433.3H540.75M442.5 394H540.75M442.5 354.7H540.75" stroke="#e3e3e3" stroke-width="0.6" fill="none"/>
<text class="t" x="491.62" y="314.1" font-size="7.0" text-anchor="middle" fill="#000">CEC2022 F12 Dim=20</text>
<path d="M442.5 435.5v-1M442.5 315.4v1M462.15 435.5v-1M462.15 315.4v1M481.8 435.5v-1M481.8 315.4v1M501.45 435.5v-1M501.45 315.4v1M521.1 435.5v-1M521.1 315.4v1M540.75 435.5v-1M540.75 315.4v1M442.5 433.3h1M540.75 433.3h-1M442.5 394h1M540.75 394h-1M442.5 354.7h1M540.75 354.7h-1M442.5 315.4h1M540.75 315.4h-1" stroke="#a6a6a6" stroke-width="0.6" fill="none"/>
<rect x="442.5" y="315.4" width="98.25" height="120.1" fill="none" stroke="#a6a6a6" stroke-width="0.7"/>
<text class="t" x="442.5" y="444.1" font-size="6.1" text-anchor="middle" fill="#000">0</text>
<text class="t" x="462.15" y="444.1" font-size="6.1" text-anchor="middle" fill="#000">100</text>
<text class="t" x="481.8" y="444.1" font-size="6.1" text-anchor="middle" fill="#000">200</text>
<text class="t" x="501.45" y="444.1" font-size="6.1" text-anchor="middle" fill="#000">300</text>
<text class="t" x="521.1" y="444.1" font-size="6.1" text-anchor="middle" fill="#000">400</text>
<text class="t" x="540.75" y="444.1" font-size="6.1" text-anchor="middle" fill="#000">500</text>
<text class="t" x="439.9" y="435.5" font-size="6.1" text-anchor="end" fill="#000">3000</text>
<text class="t" x="439.9" y="396.2" font-size="6.1" text-anchor="end" fill="#000">3500</text>
<text class="t" x="439.9" y="356.9" font-size="6.1" text-anchor="end" fill="#000">4000</text>
<text class="t" x="439.9" y="317.6" font-size="6.1" text-anchor="end" fill="#000">4500</text>
<text class="t" x="491.62" y="453" font-size="6.9" text-anchor="middle" fill="#000">Iterations</text>
<clipPath id="cF12"><rect x="439.5" y="312.4" width="104.25" height="126.1"/></clipPath>
<g clip-path="url(#cF12)">
<path d="M442.7 358.2 445.6 429.3 450 434.6 492.1 435.1 540.75 435.3" stroke="#ff0000" stroke-width="1.45" fill="none"/>
<circle cx="442.7" cy="358.2" r="1.5" stroke="#ff0000" stroke-width="1.3" fill="#fff" fill-opacity="0.3"/>
<circle cx="446.04" cy="429.83" r="1.5" stroke="#ff0000" stroke-width="1.3" fill="#fff" fill-opacity="0.3"/>
<circle cx="449.38" cy="433.85" r="1.5" stroke="#ff0000" stroke-width="1.3" fill="#fff" fill-opacity="0.3"/>
<circle cx="452.72" cy="434.63" r="1.5" stroke="#ff0000" stroke-width="1.3" fill="#fff" fill-opacity="0.3"/>
<circle cx="456.06" cy="434.67" r="1.5" stroke="#ff0000" stroke-width="1.3" fill="#fff" fill-opacity="0.3"/>
<circle cx="459.4" cy="434.71" r="1.5" stroke="#ff0000" stroke-width="1.3" fill="#fff" fill-opacity="0.3"/>
<circle cx="462.74" cy="434.75" r="1.5" stroke="#ff0000" stroke-width="1.3" fill="#fff" fill-opacity="0.3"/>
<circle cx="466.08" cy="434.79" r="1.5" stroke="#ff0000" stroke-width="1.3" fill="#fff" fill-opacity="0.3"/>
<circle cx="469.42" cy="434.83" r="1.5" stroke="#ff0000" stroke-width="1.3" fill="#fff" fill-opacity="0.3"/>
<circle cx="472.76" cy="434.87" r="1.5" stroke="#ff0000" stroke-width="1.3" fill="#fff" fill-opacity="0.3"/>
<circle cx="476.1" cy="434.91" r="1.5" stroke="#ff0000" stroke-width="1.3" fill="#fff" fill-opacity="0.3"/>
<circle cx="479.44" cy="434.95" r="1.5" stroke="#ff0000" stroke-width="1.3" fill="#fff" fill-opacity="0.3"/>
<circle cx="482.78" cy="434.99" r="1.5" stroke="#ff0000" stroke-width="1.3" fill="#fff" fill-opacity="0.3"/>
<circle cx="486.12" cy="435.03" r="1.5" stroke="#ff0000" stroke-width="1.3" fill="#fff" fill-opacity="0.3"/>
<circle cx="489.46" cy="435.07" r="1.5" stroke="#ff0000" stroke-width="1.3" fill="#fff" fill-opacity="0.3"/>
<circle cx="492.8" cy="435.1" r="1.5" stroke="#ff0000" stroke-width="1.3" fill="#fff" fill-opacity="0.3"/>
<circle cx="496.14" cy="435.12" r="1.5" stroke="#ff0000" stroke-width="1.3" fill="#fff" fill-opacity="0.3"/>
<circle cx="499.49" cy="435.13" r="1.5" stroke="#ff0000" stroke-width="1.3" fill="#fff" fill-opacity="0.3"/>
<circle cx="502.83" cy="435.14" r="1.5" stroke="#ff0000" stroke-width="1.3" fill="#fff" fill-opacity="0.3"/>
<circle cx="506.17" cy="435.16" r="1.5" stroke="#ff0000" stroke-width="1.3" fill="#fff" fill-opacity="0.3"/>
<circle cx="509.51" cy="435.17" r="1.5" stroke="#ff0000" stroke-width="1.3" fill="#fff" fill-opacity="0.3"/>
<circle cx="512.85" cy="435.19" r="1.5" stroke="#ff0000" stroke-width="1.3" fill="#fff" fill-opacity="0.3"/>
<circle cx="516.19" cy="435.2" r="1.5" stroke="#ff0000" stroke-width="1.3" fill="#fff" fill-opacity="0.3"/>
<circle cx="519.53" cy="435.21" r="1.5" stroke="#ff0000" stroke-width="1.3" fill="#fff" fill-opacity="0.3"/>
<circle cx="522.87" cy="435.23" r="1.5" stroke="#ff0000" stroke-width="1.3" fill="#fff" fill-opacity="0.3"/>
<circle cx="526.21" cy="435.24" r="1.5" stroke="#ff0000" stroke-width="1.3" fill="#fff" fill-opacity="0.3"/>
<circle cx="529.55" cy="435.25" r="1.5" stroke="#ff0000" stroke-width="1.3" fill="#fff" fill-opacity="0.3"/>
<circle cx="532.89" cy="435.27" r="1.5" stroke="#ff0000" stroke-width="1.3" fill="#fff" fill-opacity="0.3"/>
<circle cx="536.23" cy="435.28" r="1.5" stroke="#ff0000" stroke-width="1.3" fill="#fff" fill-opacity="0.3"/>
<circle cx="539.57" cy="435.3" r="1.5" stroke="#ff0000" stroke-width="1.3" fill="#fff" fill-opacity="0.3"/>
<path d="M442.7 336.6 446.2 420 451.2 425.5 492.1 429.3 540.75 429.5" stroke="#00ffff" stroke-width="1.45" fill="none"/>
<path d="M440.6 334.8h4.2l-2.1 3.7zM443.94 414.32h4.2l-2.1 3.7zM447.28 421.7h4.2l-2.1 3.7zM450.62 423.84h4.2l-2.1 3.7zM453.96 424.15h4.2l-2.1 3.7zM457.3 424.46h4.2l-2.1 3.7zM460.64 424.77h4.2l-2.1 3.7zM463.98 425.08h4.2l-2.1 3.7zM467.32 425.39h4.2l-2.1 3.7zM470.66 425.7h4.2l-2.1 3.7zM474 426.01h4.2l-2.1 3.7zM477.34 426.32h4.2l-2.1 3.7zM480.68 426.63h4.2l-2.1 3.7zM484.02 426.94h4.2l-2.1 3.7zM487.36 427.26h4.2l-2.1 3.7zM490.7 427.5h4.2l-2.1 3.7zM494.04 427.52h4.2l-2.1 3.7zM497.38 427.53h4.2l-2.1 3.7zM500.73 427.54h4.2l-2.1 3.7zM504.07 427.56h4.2l-2.1 3.7zM507.41 427.57h4.2l-2.1 3.7zM510.75 427.59h4.2l-2.1 3.7zM514.09 427.6h4.2l-2.1 3.7zM517.43 427.61h4.2l-2.1 3.7zM520.77 427.63h4.2l-2.1 3.7zM524.11 427.64h4.2l-2.1 3.7zM527.45 427.65h4.2l-2.1 3.7zM530.79 427.67h4.2l-2.1 3.7zM534.13 427.68h4.2l-2.1 3.7zM537.47 427.7h4.2l-2.1 3.7z" fill="#00ffff"/>
<path d="M442.7 367.1 445.6 428.3 451.2 429.8 492.1 431 540.75 431.3" stroke="#0000ff" stroke-width="1.45" fill="none"/>
<path d="M440.6 368.9h4.2l-2.1 -3.7zM443.94 430.22h4.2l-2.1 -3.7zM447.28 431.11h4.2l-2.1 -3.7zM450.62 431.64h4.2l-2.1 -3.7zM453.96 431.74h4.2l-2.1 -3.7zM457.3 431.84h4.2l-2.1 -3.7zM460.64 431.94h4.2l-2.1 -3.7zM463.98 432.04h4.2l-2.1 -3.7zM467.32 432.13h4.2l-2.1 -3.7zM470.66 432.23h4.2l-2.1 -3.7zM474 432.33h4.2l-2.1 -3.7zM477.34 432.43h4.2l-2.1 -3.7zM480.68 432.53h4.2l-2.1 -3.7zM484.02 432.62h4.2l-2.1 -3.7zM487.36 432.72h4.2l-2.1 -3.7zM490.7 432.8h4.2l-2.1 -3.7zM494.04 432.82h4.2l-2.1 -3.7zM497.38 432.85h4.2l-2.1 -3.7zM500.73 432.87h4.2l-2.1 -3.7zM504.07 432.89h4.2l-2.1 -3.7zM507.41 432.91h4.2l-2.1 -3.7zM510.75 432.93h4.2l-2.1 -3.7zM514.09 432.95h4.2l-2.1 -3.7zM517.43 432.97h4.2l-2.1 -3.7zM520.77 432.99h4.2l-2.1 -3.7zM524.11 433.01h4.2l-2.1 -3.7zM527.45 433.03h4.2l-2.1 -3.7zM530.79 433.05h4.2l-2.1 -3.7zM534.13 433.07h4.2l-2.1 -3.7zM537.47 433.09h4.2l-2.1 -3.7z" fill="#0000ff"/>
<path d="M442.7 320.7 446.2 419.1 451.2 424.5 461.4 427.2 492.1 428.3 540.75 428.4" stroke="#ff00ff" stroke-width="1.45" fill="none"/>
<circle cx="442.7" cy="320.7" r="1.7" fill="#ff00ff"/>
<circle cx="446.04" cy="414.52" r="1.7" fill="#ff00ff"/>
<circle cx="449.38" cy="422.53" r="1.7" fill="#ff00ff"/>
<circle cx="452.72" cy="424.9" r="1.7" fill="#ff00ff"/>
<circle cx="456.06" cy="425.79" r="1.7" fill="#ff00ff"/>
<circle cx="459.4" cy="426.67" r="1.7" fill="#ff00ff"/>
<circle cx="462.74" cy="427.25" r="1.7" fill="#ff00ff"/>
<circle cx="466.08" cy="427.37" r="1.7" fill="#ff00ff"/>
<circle cx="469.42" cy="427.49" r="1.7" fill="#ff00ff"/>
<circle cx="472.76" cy="427.61" r="1.7" fill="#ff00ff"/>
<circle cx="476.1" cy="427.73" r="1.7" fill="#ff00ff"/>
<circle cx="479.44" cy="427.85" r="1.7" fill="#ff00ff"/>
<circle cx="482.78" cy="427.97" r="1.7" fill="#ff00ff"/>
<circle cx="486.12" cy="428.09" r="1.7" fill="#ff00ff"/>
<circle cx="489.46" cy="428.21" r="1.7" fill="#ff00ff"/>
<circle cx="492.8" cy="428.3" r="1.7" fill="#ff00ff"/>
<circle cx="496.14" cy="428.31" r="1.7" fill="#ff00ff"/>
<circle cx="499.49" cy="428.32" r="1.7" fill="#ff00ff"/>
<circle cx="502.83" cy="428.32" r="1.7" fill="#ff00ff"/>
<circle cx="506.17" cy="428.33" r="1.7" fill="#ff00ff"/>
<circle cx="509.51" cy="428.34" r="1.7" fill="#ff00ff"/>
<circle cx="512.85" cy="428.34" r="1.7" fill="#ff00ff"/>
<circle cx="516.19" cy="428.35" r="1.7" fill="#ff00ff"/>
<circle cx="519.53" cy="428.36" r="1.7" fill="#ff00ff"/>
<circle cx="522.87" cy="428.36" r="1.7" fill="#ff00ff"/>
<circle cx="526.21" cy="428.37" r="1.7" fill="#ff00ff"/>
<circle cx="529.55" cy="428.38" r="1.7" fill="#ff00ff"/>
<circle cx="532.89" cy="428.38" r="1.7" fill="#ff00ff"/>
<circle cx="536.23" cy="428.39" r="1.7" fill="#ff00ff"/>
<circle cx="539.57" cy="428.4" r="1.7" fill="#ff00ff"/>
<path d="M442.7 345 445.5 429 450 431.5 492.1 431.5 540.75 432.5" stroke="#00ff00" stroke-width="1.45" fill="none" stroke-dasharray="3.2 3.2"/>
<path d="M442.7 340 446.2 410.3 451.2 414.1 461.4 417.9 474.1 419.6 486 420.6 506.3 421.25 509.4 425.6 512.6 428 540.75 428.4" stroke="#00ffff" stroke-width="1.45" fill="none"/>
<path d="M442.7 350 446.2 414.1 451.2 417.9 461.4 421.7 474.1 424.7 486.8 427.3 492.1 428.5 510 430.3 540.75 431.3" stroke="#0000d0" stroke-width="1.45" fill="none"/>
<path d="M442.7 345 446.2 383.6 450 388.7 456.3 391.2 466.5 395 476.6 397.6 486 400.6 490.7 401.4 496.9 406.1 504.75 410 517.25 413.9 529.75 418.1 540.75 419.7" stroke="#ff00ff" stroke-width="1.45" fill="none"/>
<path d="M442.7 340 445.5 428 450 431 492.1 431.3 540.75 432.7" stroke="#00ff00" stroke-width="1.45" fill="none"/>
</g>
<text class="t" transform="translate(424.1 375.3) rotate(-90)" font-size="6.9" text-anchor="middle" fill="#000">Fitness</text>
<rect x="118.9" y="470.4" width="318.3" height="35.7" fill="#fff" stroke="#a8a8a8" stroke-width="0.9"/>
<path d="M121.3 479.5H143.8" stroke="#ff0000" stroke-width="1.7"/>
<circle cx="132.55" cy="479.5" r="2.5" stroke="#ff0000" stroke-width="1.4" fill="#fff"/>
<path d="M194.8 479.5H217.0" stroke="#00ffff" stroke-width="1.7"/>
<path d="M202.3 476.9h7.2l-3.6 6.2z" fill="#00ffff"/>
<path d="M254.2 479.5H276.3" stroke="#0000ff" stroke-width="1.7"/>
<path d="M261.65 482.1h7.2l-3.6 -6.2z" fill="#0000ff"/>
<path d="M313.2 479.5H335.5" stroke="#ff00ff" stroke-width="1.7"/>
<circle cx="324.35" cy="479.5" r="2.2" fill="#ff00ff"/>
<path d="M376.6 479.5H396.0" stroke="#00ff00" stroke-width="1.7" stroke-dasharray="5.5 7" stroke-dashoffset="-1"/>
<path d="M121.3 496.8H143.8" stroke="#00ffff" stroke-width="1.7"/>
<path d="M194.8 496.8H217.0" stroke="#0000d0" stroke-width="1.7"/>
<path d="M254.2 496.8H276.3" stroke="#ff00ff" stroke-width="1.7"/>
<path d="M313.2 496.8H335.5" stroke="#00ff00" stroke-width="1.7"/>
</g>
<text x="146.3" y="484.3" font-size="13.4" fill="#000" style="text-rendering:auto">IMCOA</text>
<text x="220.0" y="484.3" font-size="13.4" fill="#000" style="text-rendering:auto">COA</text>
<text x="278.8" y="484.3" font-size="13.4" fill="#000" style="text-rendering:auto">DBO</text>
<text x="338.3" y="484.3" font-size="13.4" fill="#000" style="text-rendering:auto">TSO</text>
<text x="401.5" y="484.3" font-size="13.4" fill="#000" style="text-rendering:auto">GWO</text>
<text x="146.3" y="501.6" font-size="13.4" fill="#000" style="text-rendering:auto">AO</text>
<text x="220.0" y="501.6" font-size="13.4" fill="#000" style="text-rendering:auto">SSA</text>
<text x="278.8" y="501.6" font-size="13.4" fill="#000" style="text-rendering:auto">HHO</text>
<text x="338.3" y="501.6" font-size="13.4" fill="#000" style="text-rendering:auto">RIME</text>
</svg></body></html>
